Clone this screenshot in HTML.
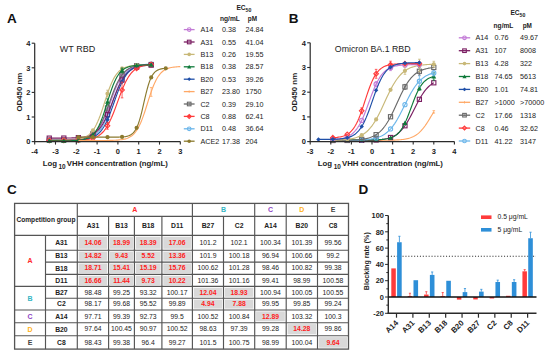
<!DOCTYPE html><html><head><meta charset="utf-8"><style>html,body{margin:0;padding:0;background:#fff;width:550px;height:355px;overflow:hidden}svg{display:block}text{font-family:"Liberation Sans",sans-serif}</style></head><body><svg width="550" height="355" viewBox="0 0 550 355" font-family="Liberation Sans, sans-serif">
<rect width="550" height="355" fill="#fff"/>
<text x="7.00" y="22.80" font-size="13.5" font-weight="bold" text-anchor="start" fill="#111" >A</text>
<text x="288.80" y="23.00" font-size="13.5" font-weight="bold" text-anchor="start" fill="#111" >B</text>
<text x="7.00" y="193.60" font-size="13.5" font-weight="bold" text-anchor="start" fill="#111" >C</text>
<text x="358.50" y="193.60" font-size="13.5" font-weight="bold" text-anchor="start" fill="#111" >D</text>
<polyline points="49.26,140.49 50.53,140.48 51.81,140.48 53.08,140.48 54.36,140.48 55.63,140.48 56.90,140.47 58.18,140.47 59.45,140.46 60.73,140.46 62.00,140.45 63.27,140.44 64.55,140.43 65.82,140.41 67.10,140.40 68.37,140.38 69.64,140.35 70.92,140.33 72.19,140.29 73.47,140.25 74.74,140.20 76.01,140.14 77.29,140.07 78.56,139.98 79.84,139.87 81.11,139.75 82.38,139.59 83.66,139.41 84.93,139.19 86.21,138.93 87.48,138.61 88.75,138.24 90.03,137.79 91.30,137.25 92.58,136.62 93.85,135.87 95.12,134.98 96.40,133.94 97.67,132.72 98.95,131.31 100.22,129.69 101.49,127.83 102.77,125.72 104.04,123.35 105.32,120.72 106.59,117.85 107.86,114.75 109.14,111.45 110.41,108.00 111.69,104.45 112.96,100.86 114.23,97.29 115.51,93.81 116.78,90.47 118.06,87.31 119.33,84.37 120.60,81.68 121.88,79.24 123.15,77.07 124.43,75.14 125.70,73.45 126.97,71.99 128.25,70.72 129.52,69.64 130.80,68.71 132.07,67.93 133.34,67.26 134.62,66.70 135.89,66.23 137.17,65.84 138.44,65.51 139.71,65.23 140.99,65.00 142.26,64.81 143.54,64.65 144.81,64.52 146.08,64.41 147.36,64.31 148.63,64.24 149.91,64.17 151.18,64.12" fill="none" stroke="#6cb6ea" stroke-width="1.15"/>
<circle cx="49.26" cy="140.49" r="2.09" fill="none" stroke="#6cb6ea" stroke-width="1.1"/>
<circle cx="63.82" cy="140.43" r="2.09" fill="none" stroke="#6cb6ea" stroke-width="1.1"/>
<circle cx="78.38" cy="139.99" r="2.09" fill="none" stroke="#6cb6ea" stroke-width="1.1"/>
<circle cx="92.94" cy="136.42" r="2.09" fill="none" stroke="#6cb6ea" stroke-width="1.1"/>
<line x1="107.50" y1="118.12" x2="107.50" y2="113.20" stroke="#6cb6ea" stroke-width="0.8" />
<line x1="106.20" y1="113.20" x2="108.80" y2="113.20" stroke="#6cb6ea" stroke-width="0.8" />
<line x1="106.20" y1="118.12" x2="108.80" y2="118.12" stroke="#6cb6ea" stroke-width="0.8" />
<circle cx="107.50" cy="115.66" r="2.09" fill="none" stroke="#6cb6ea" stroke-width="1.1"/>
<circle cx="122.06" cy="78.92" r="2.09" fill="none" stroke="#6cb6ea" stroke-width="1.1"/>
<circle cx="136.62" cy="66.00" r="2.09" fill="none" stroke="#6cb6ea" stroke-width="1.1"/>
<circle cx="151.18" cy="64.12" r="2.09" fill="none" stroke="#6cb6ea" stroke-width="1.1"/>
<polyline points="49.26,140.21 50.53,140.21 51.81,140.21 53.08,140.21 54.36,140.20 55.63,140.20 56.90,140.19 58.18,140.19 59.45,140.18 60.73,140.17 62.00,140.16 63.27,140.15 64.55,140.13 65.82,140.12 67.10,140.09 68.37,140.07 69.64,140.04 70.92,140.00 72.19,139.95 73.47,139.89 74.74,139.83 76.01,139.75 77.29,139.65 78.56,139.53 79.84,139.39 81.11,139.22 82.38,139.02 83.66,138.77 84.93,138.48 86.21,138.13 87.48,137.72 88.75,137.22 90.03,136.63 91.30,135.93 92.58,135.10 93.85,134.13 95.12,132.99 96.40,131.67 97.67,130.14 98.95,128.39 100.22,126.39 101.49,124.14 102.77,121.63 104.04,118.88 105.32,115.89 106.59,112.69 107.86,109.32 109.14,105.84 110.41,102.29 111.69,98.74 112.96,95.26 114.23,91.89 115.51,88.69 116.78,85.70 118.06,82.94 119.33,80.44 120.60,78.19 121.88,76.19 123.15,74.44 124.43,72.91 125.70,71.58 126.97,70.45 128.25,69.48 129.52,68.65 130.80,67.95 132.07,67.36 133.34,66.86 134.62,66.45 135.89,66.10 137.17,65.80 138.44,65.56 139.71,65.36 140.99,65.19 142.26,65.05 143.54,64.93 144.81,64.83 146.08,64.75 147.36,64.68 148.63,64.63 149.91,64.58 151.18,64.54" fill="none" stroke="#c27ad6" stroke-width="1.15"/>
<circle cx="49.26" cy="140.21" r="2.09" fill="none" stroke="#c27ad6" stroke-width="1.1"/>
<circle cx="63.82" cy="140.14" r="2.09" fill="none" stroke="#c27ad6" stroke-width="1.1"/>
<circle cx="78.38" cy="139.55" r="2.09" fill="none" stroke="#c27ad6" stroke-width="1.1"/>
<circle cx="92.94" cy="134.84" r="2.09" fill="none" stroke="#c27ad6" stroke-width="1.1"/>
<line x1="107.50" y1="112.76" x2="107.50" y2="107.84" stroke="#c27ad6" stroke-width="0.8" />
<line x1="106.20" y1="107.84" x2="108.80" y2="107.84" stroke="#c27ad6" stroke-width="0.8" />
<line x1="106.20" y1="112.76" x2="108.80" y2="112.76" stroke="#c27ad6" stroke-width="0.8" />
<circle cx="107.50" cy="110.30" r="2.09" fill="none" stroke="#c27ad6" stroke-width="1.1"/>
<circle cx="122.06" cy="75.93" r="2.09" fill="none" stroke="#c27ad6" stroke-width="1.1"/>
<circle cx="136.62" cy="65.92" r="2.09" fill="none" stroke="#c27ad6" stroke-width="1.1"/>
<circle cx="151.18" cy="64.54" r="2.09" fill="none" stroke="#c27ad6" stroke-width="1.1"/>
<polyline points="49.26,140.11 50.53,140.11 51.81,140.11 53.08,140.11 54.36,140.10 55.63,140.10 56.90,140.09 58.18,140.08 59.45,140.08 60.73,140.07 62.00,140.06 63.27,140.04 64.55,140.02 65.82,140.00 67.10,139.98 68.37,139.95 69.64,139.91 70.92,139.87 72.19,139.82 73.47,139.75 74.74,139.68 76.01,139.59 77.29,139.48 78.56,139.34 79.84,139.19 81.11,139.00 82.38,138.77 83.66,138.49 84.93,138.16 86.21,137.77 87.48,137.31 88.75,136.75 90.03,136.09 91.30,135.31 92.58,134.40 93.85,133.32 95.12,132.06 96.40,130.61 97.67,128.94 98.95,127.03 100.22,124.87 101.49,122.46 102.77,119.79 104.04,116.88 105.32,113.76 106.59,110.45 107.86,107.00 109.14,103.47 110.41,99.92 111.69,96.41 112.96,93.00 114.23,89.75 115.51,86.68 116.78,83.85 118.06,81.26 119.33,78.92 120.60,76.84 121.88,75.01 123.15,73.40 124.43,72.01 125.70,70.81 126.97,69.79 128.25,68.91 129.52,68.17 130.80,67.55 132.07,67.02 133.34,66.58 134.62,66.21 135.89,65.90 137.17,65.64 138.44,65.42 139.71,65.24 140.99,65.09 142.26,64.97 143.54,64.86 144.81,64.78 146.08,64.71 147.36,64.65 148.63,64.60 149.91,64.56 151.18,64.52" fill="none" stroke="#6a6a6a" stroke-width="1.15"/>
<rect x="47.17" y="138.02" width="4.18" height="4.18" fill="none" stroke="#6a6a6a" stroke-width="1.1"/>
<circle cx="49.26" cy="140.11" r="0.77" fill="#6a6a6a"/>
<rect x="61.73" y="137.94" width="4.18" height="4.18" fill="none" stroke="#6a6a6a" stroke-width="1.1"/>
<circle cx="63.82" cy="140.03" r="0.77" fill="#6a6a6a"/>
<rect x="76.29" y="137.28" width="4.18" height="4.18" fill="none" stroke="#6a6a6a" stroke-width="1.1"/>
<circle cx="78.38" cy="139.37" r="0.77" fill="#6a6a6a"/>
<rect x="90.85" y="132.01" width="4.18" height="4.18" fill="none" stroke="#6a6a6a" stroke-width="1.1"/>
<circle cx="92.94" cy="134.10" r="0.77" fill="#6a6a6a"/>
<rect x="105.41" y="105.91" width="4.18" height="4.18" fill="none" stroke="#6a6a6a" stroke-width="1.1"/>
<circle cx="107.50" cy="108.00" r="0.77" fill="#6a6a6a"/>
<rect x="119.97" y="72.67" width="4.18" height="4.18" fill="none" stroke="#6a6a6a" stroke-width="1.1"/>
<circle cx="122.06" cy="74.76" r="0.77" fill="#6a6a6a"/>
<rect x="134.53" y="63.65" width="4.18" height="4.18" fill="none" stroke="#6a6a6a" stroke-width="1.1"/>
<circle cx="136.62" cy="65.74" r="0.77" fill="#6a6a6a"/>
<rect x="149.09" y="62.43" width="4.18" height="4.18" fill="none" stroke="#6a6a6a" stroke-width="1.1"/>
<circle cx="151.18" cy="64.52" r="0.77" fill="#6a6a6a"/>
<polyline points="49.26,138.15 50.53,138.15 51.81,138.14 53.08,138.14 54.36,138.14 55.63,138.14 56.90,138.13 58.18,138.13 59.45,138.12 60.73,138.11 62.00,138.11 63.27,138.10 64.55,138.08 65.82,138.07 67.10,138.05 68.37,138.03 69.64,138.01 70.92,137.98 72.19,137.94 73.47,137.90 74.74,137.85 76.01,137.78 77.29,137.71 78.56,137.62 79.84,137.51 81.11,137.39 82.38,137.23 83.66,137.05 84.93,136.83 86.21,136.57 87.48,136.26 88.75,135.89 90.03,135.45 91.30,134.93 92.58,134.32 93.85,133.59 95.12,132.74 96.40,131.75 97.67,130.59 98.95,129.26 100.22,127.72 101.49,125.97 102.77,123.99 104.04,121.78 105.32,119.33 106.59,116.65 107.86,113.77 109.14,110.70 110.41,107.48 111.69,104.17 112.96,100.82 114.23,97.47 115.51,94.20 116.78,91.04 118.06,88.04 119.33,85.23 120.60,82.65 121.88,80.29 123.15,78.18 124.43,76.29 125.70,74.63 126.97,73.18 128.25,71.92 129.52,70.83 130.80,69.90 132.07,69.10 133.34,68.42 134.62,67.85 135.89,67.36 137.17,66.95 138.44,66.61 139.71,66.32 140.99,66.08 142.26,65.87 143.54,65.70 144.81,65.56 146.08,65.44 147.36,65.34 148.63,65.26 149.91,65.19 151.18,65.14" fill="none" stroke="#7b1f63" stroke-width="1.15"/>
<rect x="47.17" y="136.06" width="4.18" height="4.18" fill="none" stroke="#7b1f63" stroke-width="1.1"/>
<rect x="61.73" y="136.00" width="4.18" height="4.18" fill="none" stroke="#7b1f63" stroke-width="1.1"/>
<rect x="76.29" y="135.54" width="4.18" height="4.18" fill="none" stroke="#7b1f63" stroke-width="1.1"/>
<rect x="90.85" y="132.03" width="4.18" height="4.18" fill="none" stroke="#7b1f63" stroke-width="1.1"/>
<line x1="107.50" y1="117.07" x2="107.50" y2="112.15" stroke="#7b1f63" stroke-width="0.8" />
<line x1="106.20" y1="112.15" x2="108.80" y2="112.15" stroke="#7b1f63" stroke-width="0.8" />
<line x1="106.20" y1="117.07" x2="108.80" y2="117.07" stroke="#7b1f63" stroke-width="0.8" />
<rect x="105.41" y="112.52" width="4.18" height="4.18" fill="none" stroke="#7b1f63" stroke-width="1.1"/>
<rect x="119.97" y="77.89" width="4.18" height="4.18" fill="none" stroke="#7b1f63" stroke-width="1.1"/>
<rect x="134.53" y="65.03" width="4.18" height="4.18" fill="none" stroke="#7b1f63" stroke-width="1.1"/>
<rect x="149.09" y="63.05" width="4.18" height="4.18" fill="none" stroke="#7b1f63" stroke-width="1.1"/>
<polyline points="49.26,139.97 50.53,139.97 51.81,139.96 53.08,139.96 54.36,139.96 55.63,139.95 56.90,139.95 58.18,139.94 59.45,139.93 60.73,139.92 62.00,139.91 63.27,139.89 64.55,139.87 65.82,139.85 67.10,139.82 68.37,139.79 69.64,139.74 70.92,139.69 72.19,139.62 73.47,139.54 74.74,139.43 76.01,139.31 77.29,139.15 78.56,138.97 79.84,138.73 81.11,138.45 82.38,138.10 83.66,137.67 84.93,137.16 86.21,136.53 87.48,135.76 88.75,134.85 90.03,133.75 91.30,132.44 92.58,130.89 93.85,129.07 95.12,126.96 96.40,124.55 97.67,121.81 98.95,118.76 100.22,115.43 101.49,111.84 102.77,108.06 104.04,104.16 105.32,100.22 106.59,96.34 107.86,92.58 109.14,89.03 110.41,85.73 111.69,82.73 112.96,80.04 114.23,77.66 115.51,75.60 116.78,73.82 118.06,72.31 119.33,71.03 120.60,69.96 121.88,69.07 123.15,68.32 124.43,67.71 125.70,67.21 126.97,66.79 128.25,66.46 129.52,66.18 130.80,65.95 132.07,65.77 133.34,65.62 134.62,65.50 135.89,65.40 137.17,65.32 138.44,65.25 139.71,65.20 140.99,65.16 142.26,65.12 143.54,65.09 144.81,65.07 146.08,65.05 147.36,65.04 148.63,65.02 149.91,65.01 151.18,65.01" fill="none" stroke="#c8b878" stroke-width="1.15"/>
<circle cx="49.26" cy="139.97" r="2.09" fill="#c8b878"/>
<circle cx="63.82" cy="139.89" r="2.09" fill="#c8b878"/>
<circle cx="78.38" cy="138.99" r="2.09" fill="#c8b878"/>
<circle cx="92.94" cy="130.40" r="2.09" fill="#c8b878"/>
<line x1="107.50" y1="97.08" x2="107.50" y2="90.19" stroke="#c8b878" stroke-width="0.8" />
<line x1="106.20" y1="90.19" x2="108.80" y2="90.19" stroke="#c8b878" stroke-width="0.8" />
<line x1="106.20" y1="97.08" x2="108.80" y2="97.08" stroke="#c8b878" stroke-width="0.8" />
<circle cx="107.50" cy="93.64" r="2.09" fill="#c8b878"/>
<line x1="122.06" y1="70.92" x2="122.06" y2="66.98" stroke="#c8b878" stroke-width="0.8" />
<line x1="120.76" y1="66.98" x2="123.36" y2="66.98" stroke="#c8b878" stroke-width="0.8" />
<line x1="120.76" y1="70.92" x2="123.36" y2="70.92" stroke="#c8b878" stroke-width="0.8" />
<circle cx="122.06" cy="68.95" r="2.09" fill="#c8b878"/>
<circle cx="136.62" cy="65.35" r="2.09" fill="#c8b878"/>
<circle cx="151.18" cy="65.01" r="2.09" fill="#c8b878"/>
<polyline points="49.26,140.29 50.53,140.29 51.81,140.29 53.08,140.29 54.36,140.29 55.63,140.28 56.90,140.28 58.18,140.28 59.45,140.27 60.73,140.27 62.00,140.26 63.27,140.26 64.55,140.25 65.82,140.24 67.10,140.23 68.37,140.21 69.64,140.20 70.92,140.18 72.19,140.15 73.47,140.12 74.74,140.09 76.01,140.04 77.29,139.99 78.56,139.93 79.84,139.85 81.11,139.75 82.38,139.64 83.66,139.51 84.93,139.34 86.21,139.14 87.48,138.91 88.75,138.62 90.03,138.28 91.30,137.87 92.58,137.38 93.85,136.80 95.12,136.11 96.40,135.29 97.67,134.32 98.95,133.18 100.22,131.86 101.49,130.32 102.77,128.55 104.04,126.53 105.32,124.25 106.59,121.70 107.86,118.90 109.14,115.85 110.41,112.59 111.69,109.16 112.96,105.60 114.23,101.98 115.51,98.37 116.78,94.82 118.06,91.41 119.33,88.17 120.60,85.15 121.88,82.38 123.15,79.86 124.43,77.62 125.70,75.63 126.97,73.89 128.25,72.38 129.52,71.08 130.80,69.96 132.07,69.01 133.34,68.21 134.62,67.53 135.89,66.96 137.17,66.48 138.44,66.08 139.71,65.75 140.99,65.47 142.26,65.24 143.54,65.04 144.81,64.88 146.08,64.75 147.36,64.64 148.63,64.55 149.91,64.47 151.18,64.41" fill="none" stroke="#1f4fa8" stroke-width="1.15"/>
<polygon points="49.26,138.09 51.46,140.29 49.26,142.49 47.06,140.29" fill="#1f4fa8"/>
<polygon points="63.82,138.06 66.02,140.26 63.82,142.46 61.62,140.26" fill="#1f4fa8"/>
<polygon points="78.38,137.73 80.58,139.93 78.38,142.13 76.18,139.93" fill="#1f4fa8"/>
<polygon points="92.94,135.03 95.14,137.23 92.94,139.43 90.74,137.23" fill="#1f4fa8"/>
<line x1="107.50" y1="122.68" x2="107.50" y2="116.78" stroke="#1f4fa8" stroke-width="0.8" />
<line x1="106.20" y1="116.78" x2="108.80" y2="116.78" stroke="#1f4fa8" stroke-width="0.8" />
<line x1="106.20" y1="122.68" x2="108.80" y2="122.68" stroke="#1f4fa8" stroke-width="0.8" />
<polygon points="107.50,117.53 109.70,119.73 107.50,121.93 105.30,119.73" fill="#1f4fa8"/>
<polygon points="122.06,79.80 124.26,82.00 122.06,84.20 119.86,82.00" fill="#1f4fa8"/>
<polygon points="136.62,64.47 138.82,66.67 136.62,68.87 134.42,66.67" fill="#1f4fa8"/>
<polygon points="151.18,62.21 153.38,64.41 151.18,66.61 148.98,64.41" fill="#1f4fa8"/>
<polyline points="49.26,140.46 50.53,140.46 51.81,140.46 53.08,140.46 54.36,140.46 55.63,140.46 56.90,140.46 58.18,140.45 59.45,140.45 60.73,140.45 62.00,140.44 63.27,140.44 64.55,140.43 65.82,140.42 67.10,140.41 68.37,140.40 69.64,140.39 70.92,140.37 72.19,140.36 73.47,140.33 74.74,140.31 76.01,140.27 77.29,140.23 78.56,140.19 79.84,140.13 81.11,140.06 82.38,139.98 83.66,139.88 84.93,139.77 86.21,139.63 87.48,139.46 88.75,139.26 90.03,139.02 91.30,138.74 92.58,138.40 93.85,138.00 95.12,137.52 96.40,136.95 97.67,136.28 98.95,135.50 100.22,134.57 101.49,133.50 102.77,132.24 104.04,130.80 105.32,129.14 106.59,127.25 107.86,125.12 109.14,122.75 110.41,120.13 111.69,117.28 112.96,114.21 114.23,110.96 115.51,107.58 116.78,104.10 118.06,100.59 119.33,97.11 120.60,93.71 121.88,90.44 123.15,87.36 124.43,84.48 125.70,81.84 126.97,79.44 128.25,77.29 129.52,75.38 130.80,73.70 132.07,72.23 133.34,70.96 134.62,69.86 135.89,68.92 137.17,68.12 138.44,67.44 139.71,66.87 140.99,66.38 142.26,65.97 143.54,65.63 144.81,65.34 146.08,65.09 147.36,64.89 148.63,64.72 149.91,64.58 151.18,64.46" fill="none" stroke="#ff3b3b" stroke-width="1.15"/>
<polygon points="49.26,138.15 51.57,140.46 49.26,142.77 46.95,140.46" fill="none" stroke="#ff3b3b" stroke-width="1.1"/>
<polygon points="63.82,138.12 66.13,140.43 63.82,142.74 61.51,140.43" fill="none" stroke="#ff3b3b" stroke-width="1.1"/>
<polygon points="78.38,137.88 80.69,140.19 78.38,142.50 76.07,140.19" fill="none" stroke="#ff3b3b" stroke-width="1.1"/>
<polygon points="92.94,135.98 95.25,138.29 92.94,140.60 90.63,138.29" fill="none" stroke="#ff3b3b" stroke-width="1.1"/>
<line x1="107.50" y1="129.20" x2="107.50" y2="122.31" stroke="#ff3b3b" stroke-width="0.8" />
<line x1="106.20" y1="122.31" x2="108.80" y2="122.31" stroke="#ff3b3b" stroke-width="0.8" />
<line x1="106.20" y1="129.20" x2="108.80" y2="129.20" stroke="#ff3b3b" stroke-width="0.8" />
<polygon points="107.50,123.45 109.81,125.76 107.50,128.07 105.19,125.76" fill="none" stroke="#ff3b3b" stroke-width="1.1"/>
<line x1="122.06" y1="97.86" x2="122.06" y2="82.12" stroke="#ff3b3b" stroke-width="0.8" />
<line x1="120.76" y1="82.12" x2="123.36" y2="82.12" stroke="#ff3b3b" stroke-width="0.8" />
<line x1="120.76" y1="97.86" x2="123.36" y2="97.86" stroke="#ff3b3b" stroke-width="0.8" />
<polygon points="122.06,87.68 124.37,89.99 122.06,92.30 119.75,89.99" fill="none" stroke="#ff3b3b" stroke-width="1.1"/>
<polygon points="136.62,66.14 138.93,68.45 136.62,70.76 134.31,68.45" fill="none" stroke="#ff3b3b" stroke-width="1.1"/>
<polygon points="151.18,62.15 153.49,64.46 151.18,66.77 148.87,64.46" fill="none" stroke="#ff3b3b" stroke-width="1.1"/>
<polyline points="49.26,140.86 50.53,140.86 51.81,140.86 53.08,140.85 54.36,140.85 55.63,140.85 56.90,140.85 58.18,140.84 59.45,140.84 60.73,140.83 62.00,140.83 63.27,140.82 64.55,140.81 65.82,140.79 67.10,140.78 68.37,140.76 69.64,140.73 70.92,140.70 72.19,140.66 73.47,140.61 74.74,140.55 76.01,140.48 77.29,140.38 78.56,140.27 79.84,140.13 81.11,139.95 82.38,139.74 83.66,139.47 84.93,139.14 86.21,138.74 87.48,138.25 88.75,137.64 90.03,136.91 91.30,136.02 92.58,134.94 93.85,133.65 95.12,132.11 96.40,130.30 97.67,128.18 98.95,125.73 100.22,122.95 101.49,119.83 102.77,116.39 104.04,112.69 105.32,108.77 106.59,104.71 107.86,100.61 109.14,96.57 110.41,92.67 111.69,88.98 112.96,85.57 114.23,82.48 115.51,79.73 116.78,77.32 118.06,75.23 119.33,73.44 120.60,71.93 121.88,70.66 123.15,69.60 124.43,68.73 125.70,68.00 126.97,67.41 128.25,66.93 129.52,66.53 130.80,66.21 132.07,65.95 133.34,65.74 134.62,65.57 135.89,65.43 137.17,65.32 138.44,65.23 139.71,65.15 140.99,65.09 142.26,65.05 143.54,65.01 144.81,64.98 146.08,64.95 147.36,64.93 148.63,64.92 149.91,64.90 151.18,64.89" fill="none" stroke="#0f7a3a" stroke-width="1.15"/>
<polygon points="49.26,138.44 51.68,142.79 46.84,142.79" fill="#0f7a3a"/>
<polygon points="63.82,138.39 66.24,142.75 61.40,142.75" fill="#0f7a3a"/>
<polygon points="78.38,137.87 80.80,142.22 75.96,142.22" fill="#0f7a3a"/>
<polygon points="92.94,132.18 95.36,136.53 90.52,136.53" fill="#0f7a3a"/>
<line x1="107.50" y1="104.74" x2="107.50" y2="98.83" stroke="#0f7a3a" stroke-width="0.8" />
<line x1="106.20" y1="98.83" x2="108.80" y2="98.83" stroke="#0f7a3a" stroke-width="0.8" />
<line x1="106.20" y1="104.74" x2="108.80" y2="104.74" stroke="#0f7a3a" stroke-width="0.8" />
<polygon points="107.50,99.36 109.92,103.72 105.08,103.72" fill="#0f7a3a"/>
<line x1="122.06" y1="72.96" x2="122.06" y2="68.04" stroke="#0f7a3a" stroke-width="0.8" />
<line x1="120.76" y1="68.04" x2="123.36" y2="68.04" stroke="#0f7a3a" stroke-width="0.8" />
<line x1="120.76" y1="72.96" x2="123.36" y2="72.96" stroke="#0f7a3a" stroke-width="0.8" />
<polygon points="122.06,68.08 124.48,72.43 119.64,72.43" fill="#0f7a3a"/>
<polygon points="136.62,62.94 139.04,67.30 134.20,67.30" fill="#0f7a3a"/>
<polygon points="151.18,62.47 153.60,66.83 148.76,66.83" fill="#0f7a3a"/>
<polyline points="78.38,140.52 79.65,140.52 80.93,140.52 82.20,140.52 83.48,140.52 84.75,140.52 86.02,140.52 87.30,140.52 88.57,140.51 89.85,140.51 91.12,140.51 92.39,140.51 93.67,140.51 94.94,140.51 96.22,140.51 97.49,140.50 98.76,140.50 100.04,140.50 101.31,140.49 102.59,140.48 103.86,140.48 105.13,140.47 106.41,140.45 107.68,140.44 108.96,140.42 110.23,140.39 111.50,140.36 112.78,140.32 114.05,140.28 115.33,140.22 116.60,140.15 117.87,140.06 119.15,139.94 120.42,139.80 121.70,139.63 122.97,139.42 124.24,139.16 125.52,138.83 126.79,138.43 128.07,137.94 129.34,137.33 130.61,136.60 131.89,135.70 133.16,134.62 134.44,133.32 135.71,131.77 136.98,129.93 138.26,127.79 139.53,125.32 140.81,122.51 142.08,119.36 143.35,115.91 144.63,112.19 145.90,108.28 147.18,104.25 148.45,100.20 149.72,96.23 151.00,92.42 152.27,88.86 153.55,85.58 154.82,82.63 156.09,80.02 157.37,77.74 158.64,75.79 159.92,74.12 161.19,72.72 162.46,71.56 163.74,70.59 165.01,69.79 166.29,69.14 167.56,68.60 168.83,68.16 170.11,67.81 171.38,67.52 172.66,67.29 173.93,67.10 175.20,66.95 176.48,66.83 177.75,66.73 179.03,66.65 180.30,66.59" fill="none" stroke="#ffa866" stroke-width="1.15"/>
<line x1="151.18" y1="96.33" x2="151.18" y2="87.47" stroke="#ffa866" stroke-width="0.8" />
<line x1="149.88" y1="87.47" x2="152.48" y2="87.47" stroke="#ffa866" stroke-width="0.8" />
<line x1="149.88" y1="96.33" x2="152.48" y2="96.33" stroke="#ffa866" stroke-width="0.8" />
<polyline points="78.38,137.17 79.47,137.17 80.56,137.17 81.66,137.17 82.75,137.17 83.84,137.17 84.93,137.17 86.02,137.17 87.12,137.17 88.21,137.17 89.30,137.17 90.39,137.17 91.48,137.17 92.58,137.17 93.67,137.17 94.76,137.17 95.85,137.17 96.94,137.17 98.04,137.17 99.13,137.17 100.22,137.17 101.31,137.17 102.40,137.17 103.50,137.17 104.59,137.17 105.68,137.17 106.77,137.17 107.86,137.16 108.96,137.16 110.05,137.16 111.14,137.16 112.23,137.15 113.32,137.14 114.42,137.13 115.51,137.12 116.60,137.11 117.69,137.09 118.78,137.06 119.88,137.02 120.97,136.97 122.06,136.91 123.15,136.82 124.24,136.71 125.34,136.57 126.43,136.38 127.52,136.13 128.61,135.80 129.70,135.37 130.80,134.81 131.89,134.09 132.98,133.16 134.07,131.97 135.16,130.46 136.26,128.57 137.35,126.25 138.44,123.45 139.53,120.13 140.62,116.32 141.72,112.06 142.81,107.47 143.90,102.70 144.99,97.92 146.08,93.32 147.18,89.05 148.27,85.22 149.36,81.89 150.45,79.06 151.54,76.72 152.64,74.82 153.73,73.30 154.82,72.10 155.91,71.16 157.00,70.43 158.10,69.87 159.19,69.43 160.28,69.10 161.37,68.85 162.46,68.66 163.56,68.51 164.65,68.40 165.74,68.31" fill="none" stroke="#8b7a2e" stroke-width="1.15"/>
<circle cx="78.38" cy="137.17" r="2.09" fill="#8b7a2e"/>
<circle cx="92.94" cy="137.17" r="2.09" fill="#8b7a2e"/>
<circle cx="107.50" cy="137.17" r="2.09" fill="#8b7a2e"/>
<circle cx="122.06" cy="136.91" r="2.09" fill="#8b7a2e"/>
<circle cx="136.62" cy="127.85" r="2.09" fill="#8b7a2e"/>
<circle cx="151.18" cy="77.45" r="2.09" fill="#8b7a2e"/>
<circle cx="165.74" cy="68.31" r="2.09" fill="#8b7a2e"/>
<line x1="34.70" y1="142.10" x2="34.70" y2="43.20" stroke="#2a2a2a" stroke-width="1.2" />
<line x1="31.70" y1="141.60" x2="34.70" y2="141.60" stroke="#2a2a2a" stroke-width="1.1" />
<text x="30.50" y="144.30" font-size="7.5" font-weight="bold" text-anchor="end" fill="#222" >0</text>
<line x1="31.70" y1="117.00" x2="34.70" y2="117.00" stroke="#2a2a2a" stroke-width="1.1" />
<text x="30.50" y="119.70" font-size="7.5" font-weight="bold" text-anchor="end" fill="#222" >1</text>
<line x1="31.70" y1="92.40" x2="34.70" y2="92.40" stroke="#2a2a2a" stroke-width="1.1" />
<text x="30.50" y="95.10" font-size="7.5" font-weight="bold" text-anchor="end" fill="#222" >2</text>
<line x1="31.70" y1="67.80" x2="34.70" y2="67.80" stroke="#2a2a2a" stroke-width="1.1" />
<text x="30.50" y="70.50" font-size="7.5" font-weight="bold" text-anchor="end" fill="#222" >3</text>
<line x1="31.70" y1="43.20" x2="34.70" y2="43.20" stroke="#2a2a2a" stroke-width="1.1" />
<text x="30.50" y="45.90" font-size="7.5" font-weight="bold" text-anchor="end" fill="#222" >4</text>
<line x1="34.10" y1="141.60" x2="180.30" y2="141.60" stroke="#2a2a2a" stroke-width="1.2" />
<line x1="34.70" y1="141.60" x2="34.70" y2="144.60" stroke="#2a2a2a" stroke-width="1.1" />
<text x="34.70" y="154.20" font-size="7.5" font-weight="bold" text-anchor="middle" fill="#222" >-4</text>
<line x1="55.50" y1="141.60" x2="55.50" y2="144.60" stroke="#2a2a2a" stroke-width="1.1" />
<text x="55.50" y="154.20" font-size="7.5" font-weight="bold" text-anchor="middle" fill="#222" >-3</text>
<line x1="76.30" y1="141.60" x2="76.30" y2="144.60" stroke="#2a2a2a" stroke-width="1.1" />
<text x="76.30" y="154.20" font-size="7.5" font-weight="bold" text-anchor="middle" fill="#222" >-2</text>
<line x1="97.10" y1="141.60" x2="97.10" y2="144.60" stroke="#2a2a2a" stroke-width="1.1" />
<text x="97.10" y="154.20" font-size="7.5" font-weight="bold" text-anchor="middle" fill="#222" >-1</text>
<line x1="117.90" y1="141.60" x2="117.90" y2="144.60" stroke="#2a2a2a" stroke-width="1.1" />
<text x="117.90" y="154.20" font-size="7.5" font-weight="bold" text-anchor="middle" fill="#222" >0</text>
<line x1="138.70" y1="141.60" x2="138.70" y2="144.60" stroke="#2a2a2a" stroke-width="1.1" />
<text x="138.70" y="154.20" font-size="7.5" font-weight="bold" text-anchor="middle" fill="#222" >1</text>
<line x1="159.50" y1="141.60" x2="159.50" y2="144.60" stroke="#2a2a2a" stroke-width="1.1" />
<text x="159.50" y="154.20" font-size="7.5" font-weight="bold" text-anchor="middle" fill="#222" >2</text>
<line x1="180.30" y1="141.60" x2="180.30" y2="144.60" stroke="#2a2a2a" stroke-width="1.1" />
<text x="180.30" y="154.20" font-size="7.5" font-weight="bold" text-anchor="middle" fill="#222" >3</text>
<text x="59.80" y="52.20" font-size="9" font-weight="normal" text-anchor="start" fill="#222" >WT RBD</text>
<text x="19.4" y="92.2" transform="rotate(-90 19.4 92.2)" text-anchor="middle" dy="2.8" font-size="7.8" font-weight="bold" fill="#222">OD450 nm</text>
<text id="xlA" x="105.2" y="166.2" text-anchor="middle" font-size="7.8" font-weight="bold" fill="#222">Log<tspan font-size="6.4" dy="2.3" dx="1.6">10</tspan><tspan dy="-2.3" dx="1.2">VHH concentration (ng/mL)</tspan></text>
<text x="236.4" y="10.4" font-size="6.6" font-weight="bold" fill="#222">EC<tspan font-size="5.2" dy="1.3">50</tspan></text>
<text x="220.00" y="20.60" font-size="6.6" font-weight="bold" text-anchor="start" fill="#222" >ng/mL</text>
<text x="247.80" y="20.60" font-size="6.4" font-weight="bold" text-anchor="start" fill="#222" >pM</text>
<line x1="183.80" y1="29.60" x2="194.60" y2="29.60" stroke="#c27ad6" stroke-width="1.3" />
<circle cx="189.20" cy="29.60" r="1.80" fill="none" stroke="#c27ad6" stroke-width="1.1"/>
<text x="200.40" y="32.20" font-size="7.2" font-weight="normal" text-anchor="start" fill="#222" >A14</text>
<text x="222.00" y="32.20" font-size="7.2" font-weight="normal" text-anchor="start" fill="#222" >0.38</text>
<text x="245.60" y="32.20" font-size="7.2" font-weight="normal" text-anchor="start" fill="#222" >24.84</text>
<line x1="183.80" y1="42.00" x2="194.60" y2="42.00" stroke="#7b1f63" stroke-width="1.3" />
<rect x="187.39" y="40.20" width="3.61" height="3.61" fill="none" stroke="#7b1f63" stroke-width="1.1"/>
<text x="200.40" y="44.60" font-size="7.2" font-weight="normal" text-anchor="start" fill="#222" >A31</text>
<text x="222.00" y="44.60" font-size="7.2" font-weight="normal" text-anchor="start" fill="#222" >0.55</text>
<text x="245.60" y="44.60" font-size="7.2" font-weight="normal" text-anchor="start" fill="#222" >41.04</text>
<line x1="183.80" y1="54.40" x2="194.60" y2="54.40" stroke="#c8b878" stroke-width="1.3" />
<circle cx="189.20" cy="54.40" r="1.80" fill="#c8b878"/>
<text x="200.40" y="57.00" font-size="7.2" font-weight="normal" text-anchor="start" fill="#222" >B13</text>
<text x="222.00" y="57.00" font-size="7.2" font-weight="normal" text-anchor="start" fill="#222" >0.26</text>
<text x="245.60" y="57.00" font-size="7.2" font-weight="normal" text-anchor="start" fill="#222" >19.55</text>
<line x1="183.80" y1="66.80" x2="194.60" y2="66.80" stroke="#0f7a3a" stroke-width="1.3" />
<polygon points="189.20,64.71 191.29,68.47 187.11,68.47" fill="#0f7a3a"/>
<text x="200.40" y="69.40" font-size="7.2" font-weight="normal" text-anchor="start" fill="#222" >B18</text>
<text x="222.00" y="69.40" font-size="7.2" font-weight="normal" text-anchor="start" fill="#222" >0.38</text>
<text x="245.60" y="69.40" font-size="7.2" font-weight="normal" text-anchor="start" fill="#222" >28.57</text>
<line x1="183.80" y1="79.20" x2="194.60" y2="79.20" stroke="#1f4fa8" stroke-width="1.3" />
<polygon points="189.20,77.30 191.10,79.20 189.20,81.10 187.30,79.20" fill="#1f4fa8"/>
<text x="200.40" y="81.80" font-size="7.2" font-weight="normal" text-anchor="start" fill="#222" >B20</text>
<text x="222.00" y="81.80" font-size="7.2" font-weight="normal" text-anchor="start" fill="#222" >0.53</text>
<text x="245.60" y="81.80" font-size="7.2" font-weight="normal" text-anchor="start" fill="#222" >39.26</text>
<line x1="183.80" y1="91.60" x2="194.60" y2="91.60" stroke="#ffa866" stroke-width="1.3" />
<line x1="189.20" y1="90.40" x2="189.20" y2="92.80" stroke="#ffa866" stroke-width="0.8" />
<text x="200.40" y="94.20" font-size="7.2" font-weight="normal" text-anchor="start" fill="#222" >B27</text>
<text x="222.00" y="94.20" font-size="7.2" font-weight="normal" text-anchor="start" fill="#222" >23.80</text>
<text x="245.60" y="94.20" font-size="7.2" font-weight="normal" text-anchor="start" fill="#222" >1750</text>
<line x1="183.80" y1="104.00" x2="194.60" y2="104.00" stroke="#6a6a6a" stroke-width="1.3" />
<rect x="187.39" y="102.19" width="3.61" height="3.61" fill="none" stroke="#6a6a6a" stroke-width="1.1"/>
<circle cx="189.20" cy="104.00" r="0.66" fill="#6a6a6a"/>
<text x="200.40" y="106.60" font-size="7.2" font-weight="normal" text-anchor="start" fill="#222" >C2</text>
<text x="222.00" y="106.60" font-size="7.2" font-weight="normal" text-anchor="start" fill="#222" >0.39</text>
<text x="245.60" y="106.60" font-size="7.2" font-weight="normal" text-anchor="start" fill="#222" >29.10</text>
<line x1="183.80" y1="116.40" x2="194.60" y2="116.40" stroke="#ff3b3b" stroke-width="1.3" />
<polygon points="189.20,114.41 191.19,116.40 189.20,118.40 187.20,116.40" fill="none" stroke="#ff3b3b" stroke-width="1.1"/>
<text x="200.40" y="119.00" font-size="7.2" font-weight="normal" text-anchor="start" fill="#222" >C8</text>
<text x="222.00" y="119.00" font-size="7.2" font-weight="normal" text-anchor="start" fill="#222" >0.88</text>
<text x="245.60" y="119.00" font-size="7.2" font-weight="normal" text-anchor="start" fill="#222" >62.41</text>
<line x1="183.80" y1="128.80" x2="194.60" y2="128.80" stroke="#6cb6ea" stroke-width="1.3" />
<circle cx="189.20" cy="128.80" r="1.80" fill="none" stroke="#6cb6ea" stroke-width="1.1"/>
<text x="200.40" y="131.40" font-size="7.2" font-weight="normal" text-anchor="start" fill="#222" >D11</text>
<text x="222.00" y="131.40" font-size="7.2" font-weight="normal" text-anchor="start" fill="#222" >0.48</text>
<text x="245.60" y="131.40" font-size="7.2" font-weight="normal" text-anchor="start" fill="#222" >36.64</text>
<line x1="183.80" y1="141.20" x2="194.60" y2="141.20" stroke="#8b7a2e" stroke-width="1.3" />
<circle cx="189.20" cy="141.20" r="1.80" fill="#8b7a2e"/>
<text x="200.40" y="143.80" font-size="7.2" font-weight="normal" text-anchor="start" fill="#222" >ACE2</text>
<text x="222.00" y="143.80" font-size="7.2" font-weight="normal" text-anchor="start" fill="#222" >17.38</text>
<text x="245.60" y="143.80" font-size="7.2" font-weight="normal" text-anchor="start" fill="#222" >204</text>
<polyline points="332.86,140.36 334.12,140.36 335.38,140.36 336.65,140.36 337.91,140.36 339.17,140.36 340.43,140.36 341.69,140.36 342.95,140.36 344.22,140.36 345.48,140.36 346.74,140.36 348.00,140.36 349.26,140.36 350.52,140.36 351.79,140.36 353.05,140.36 354.31,140.36 355.57,140.36 356.83,140.36 358.10,140.36 359.36,140.36 360.62,140.36 361.88,140.36 363.14,140.36 364.40,140.36 365.67,140.36 366.93,140.36 368.19,140.36 369.45,140.36 370.71,140.35 371.97,140.35 373.24,140.35 374.50,140.35 375.76,140.34 377.02,140.34 378.28,140.33 379.54,140.33 380.81,140.32 382.07,140.31 383.33,140.30 384.59,140.29 385.85,140.27 387.12,140.26 388.38,140.24 389.64,140.21 390.90,140.18 392.16,140.15 393.42,140.11 394.69,140.06 395.95,140.00 397.21,139.93 398.47,139.85 399.73,139.75 400.99,139.64 402.26,139.50 403.52,139.34 404.78,139.15 406.04,138.92 407.30,138.65 408.56,138.34 409.83,137.97 411.09,137.54 412.35,137.04 413.61,136.46 414.87,135.78 416.14,135.00 417.40,134.11 418.66,133.10 419.92,131.95 421.18,130.67 422.44,129.24 423.71,127.67 424.97,125.97 426.23,124.15 427.49,122.22 428.75,120.20 430.01,118.13 431.28,116.02 432.54,113.93 433.80,111.86" fill="none" stroke="#ffa866" stroke-width="1.15"/>
<line x1="433.80" y1="113.10" x2="433.80" y2="110.63" stroke="#ffa866" stroke-width="0.8" />
<line x1="432.50" y1="110.63" x2="435.10" y2="110.63" stroke="#ffa866" stroke-width="0.8" />
<line x1="432.50" y1="113.10" x2="435.10" y2="113.10" stroke="#ffa866" stroke-width="0.8" />
<polyline points="332.86,140.44 334.12,140.44 335.38,140.44 336.65,140.44 337.91,140.44 339.17,140.43 340.43,140.43 341.69,140.43 342.95,140.43 344.22,140.43 345.48,140.43 346.74,140.43 348.00,140.43 349.26,140.42 350.52,140.42 351.79,140.42 353.05,140.41 354.31,140.41 355.57,140.40 356.83,140.40 358.10,140.39 359.36,140.38 360.62,140.37 361.88,140.36 363.14,140.34 364.40,140.33 365.67,140.31 366.93,140.29 368.19,140.26 369.45,140.23 370.71,140.19 371.97,140.15 373.24,140.10 374.50,140.04 375.76,139.97 377.02,139.89 378.28,139.80 379.54,139.69 380.81,139.56 382.07,139.41 383.33,139.23 384.59,139.03 385.85,138.79 387.12,138.51 388.38,138.19 389.64,137.81 390.90,137.38 392.16,136.88 393.42,136.30 394.69,135.63 395.95,134.87 397.21,134.00 398.47,133.01 399.73,131.90 400.99,130.65 402.26,129.25 403.52,127.70 404.78,126.00 406.04,124.14 407.30,122.14 408.56,120.00 409.83,117.73 411.09,115.37 412.35,112.93 413.61,110.44 414.87,107.94 416.14,105.46 417.40,103.02 418.66,100.66 419.92,98.40 421.18,96.26 422.44,94.26 423.71,92.40 424.97,90.70 426.23,89.16 427.49,87.76 428.75,86.51 430.01,85.40 431.28,84.42 432.54,83.55 433.80,82.79" fill="none" stroke="#7b1f63" stroke-width="1.15"/>
<rect x="330.77" y="138.35" width="4.18" height="4.18" fill="none" stroke="#7b1f63" stroke-width="1.1"/>
<rect x="345.19" y="138.34" width="4.18" height="4.18" fill="none" stroke="#7b1f63" stroke-width="1.1"/>
<rect x="359.61" y="138.27" width="4.18" height="4.18" fill="none" stroke="#7b1f63" stroke-width="1.1"/>
<rect x="374.03" y="137.86" width="4.18" height="4.18" fill="none" stroke="#7b1f63" stroke-width="1.1"/>
<rect x="388.45" y="135.42" width="4.18" height="4.18" fill="none" stroke="#7b1f63" stroke-width="1.1"/>
<rect x="402.87" y="123.65" width="4.18" height="4.18" fill="none" stroke="#7b1f63" stroke-width="1.1"/>
<rect x="417.29" y="97.26" width="4.18" height="4.18" fill="none" stroke="#7b1f63" stroke-width="1.1"/>
<rect x="431.71" y="80.70" width="4.18" height="4.18" fill="none" stroke="#7b1f63" stroke-width="1.1"/>
<polyline points="332.86,139.92 334.12,139.92 335.38,139.92 336.65,139.92 337.91,139.92 339.17,139.92 340.43,139.92 341.69,139.92 342.95,139.92 344.22,139.92 345.48,139.92 346.74,139.92 348.00,139.92 349.26,139.92 350.52,139.92 351.79,139.92 353.05,139.92 354.31,139.92 355.57,139.91 356.83,139.91 358.10,139.91 359.36,139.91 360.62,139.91 361.88,139.90 363.14,139.90 364.40,139.89 365.67,139.89 366.93,139.88 368.19,139.87 369.45,139.86 370.71,139.85 371.97,139.83 373.24,139.81 374.50,139.78 375.76,139.75 377.02,139.71 378.28,139.66 379.54,139.60 380.81,139.52 382.07,139.43 383.33,139.31 384.59,139.17 385.85,139.00 387.12,138.78 388.38,138.52 389.64,138.20 390.90,137.81 392.16,137.33 393.42,136.75 394.69,136.05 395.95,135.21 397.21,134.20 398.47,133.01 399.73,131.59 400.99,129.93 402.26,128.02 403.52,125.83 404.78,123.37 406.04,120.63 407.30,117.66 408.56,114.48 409.83,111.16 411.09,107.75 412.35,104.34 413.61,101.00 414.87,97.80 416.14,94.79 417.40,92.02 418.66,89.52 419.92,87.29 421.18,85.33 422.44,83.64 423.71,82.19 424.97,80.96 426.23,79.93 427.49,79.06 428.75,78.34 430.01,77.75 431.28,77.26 432.54,76.86 433.80,76.53" fill="none" stroke="#0f7a3a" stroke-width="1.15"/>
<polygon points="332.86,137.50 335.28,141.86 330.44,141.86" fill="#0f7a3a"/>
<polygon points="347.28,137.50 349.70,141.85 344.86,141.85" fill="#0f7a3a"/>
<polygon points="361.70,137.48 364.12,141.84 359.28,141.84" fill="#0f7a3a"/>
<polygon points="376.12,137.32 378.54,141.67 373.70,141.67" fill="#0f7a3a"/>
<polygon points="390.54,135.51 392.96,139.86 388.12,139.86" fill="#0f7a3a"/>
<polygon points="404.96,120.57 407.38,124.93 402.54,124.93" fill="#0f7a3a"/>
<line x1="419.38" y1="90.19" x2="419.38" y2="86.23" stroke="#0f7a3a" stroke-width="0.8" />
<line x1="418.08" y1="86.23" x2="420.68" y2="86.23" stroke="#0f7a3a" stroke-width="0.8" />
<line x1="418.08" y1="90.19" x2="420.68" y2="90.19" stroke="#0f7a3a" stroke-width="0.8" />
<polygon points="419.38,85.79 421.80,90.15 416.96,90.15" fill="#0f7a3a"/>
<line x1="433.80" y1="80.23" x2="433.80" y2="72.82" stroke="#0f7a3a" stroke-width="0.8" />
<line x1="432.50" y1="72.82" x2="435.10" y2="72.82" stroke="#0f7a3a" stroke-width="0.8" />
<line x1="432.50" y1="80.23" x2="435.10" y2="80.23" stroke="#0f7a3a" stroke-width="0.8" />
<polygon points="433.80,74.11 436.22,78.46 431.38,78.46" fill="#0f7a3a"/>
<polyline points="332.86,140.45 334.12,140.44 335.38,140.44 336.65,140.44 337.91,140.43 339.17,140.43 340.43,140.42 341.69,140.42 342.95,140.41 344.22,140.40 345.48,140.39 346.74,140.38 348.00,140.37 349.26,140.35 350.52,140.33 351.79,140.31 353.05,140.29 354.31,140.26 355.57,140.23 356.83,140.19 358.10,140.15 359.36,140.10 360.62,140.04 361.88,139.97 363.14,139.90 364.40,139.81 365.67,139.71 366.93,139.59 368.19,139.45 369.45,139.29 370.71,139.11 371.97,138.90 373.24,138.66 374.50,138.39 375.76,138.07 377.02,137.71 378.28,137.29 379.54,136.82 380.81,136.28 382.07,135.66 383.33,134.97 384.59,134.18 385.85,133.29 387.12,132.29 388.38,131.17 389.64,129.92 390.90,128.54 392.16,127.02 393.42,125.36 394.69,123.56 395.95,121.61 397.21,119.53 398.47,117.32 399.73,115.00 400.99,112.58 402.26,110.10 403.52,107.56 404.78,105.01 406.04,102.46 407.30,99.94 408.56,97.49 409.83,95.11 411.09,92.84 412.35,90.68 413.61,88.66 414.87,86.77 416.14,85.03 417.40,83.43 418.66,81.97 419.92,80.65 421.18,79.46 422.44,78.39 423.71,77.44 424.97,76.59 426.23,75.85 427.49,75.19 428.75,74.60 430.01,74.09 431.28,73.65 432.54,73.25 433.80,72.91" fill="none" stroke="#6cb6ea" stroke-width="1.15"/>
<circle cx="332.86" cy="140.45" r="2.09" fill="none" stroke="#6cb6ea" stroke-width="1.1"/>
<circle cx="347.28" cy="140.37" r="2.09" fill="none" stroke="#6cb6ea" stroke-width="1.1"/>
<circle cx="361.70" cy="139.98" r="2.09" fill="none" stroke="#6cb6ea" stroke-width="1.1"/>
<circle cx="376.12" cy="137.97" r="2.09" fill="none" stroke="#6cb6ea" stroke-width="1.1"/>
<circle cx="390.54" cy="128.95" r="2.09" fill="none" stroke="#6cb6ea" stroke-width="1.1"/>
<circle cx="404.96" cy="104.64" r="2.09" fill="none" stroke="#6cb6ea" stroke-width="1.1"/>
<line x1="419.38" y1="86.63" x2="419.38" y2="75.76" stroke="#6cb6ea" stroke-width="0.8" />
<line x1="418.08" y1="75.76" x2="420.68" y2="75.76" stroke="#6cb6ea" stroke-width="0.8" />
<line x1="418.08" y1="86.63" x2="420.68" y2="86.63" stroke="#6cb6ea" stroke-width="0.8" />
<circle cx="419.38" cy="81.20" r="2.09" fill="none" stroke="#6cb6ea" stroke-width="1.1"/>
<line x1="433.80" y1="75.88" x2="433.80" y2="69.95" stroke="#6cb6ea" stroke-width="0.8" />
<line x1="432.50" y1="69.95" x2="435.10" y2="69.95" stroke="#6cb6ea" stroke-width="0.8" />
<line x1="432.50" y1="75.88" x2="435.10" y2="75.88" stroke="#6cb6ea" stroke-width="0.8" />
<circle cx="433.80" cy="72.91" r="2.09" fill="none" stroke="#6cb6ea" stroke-width="1.1"/>
<polyline points="332.86,140.40 334.12,140.40 335.38,140.39 336.65,140.38 337.91,140.37 339.17,140.36 340.43,140.35 341.69,140.34 342.95,140.32 344.22,140.30 345.48,140.28 346.74,140.25 348.00,140.22 349.26,140.19 350.52,140.14 351.79,140.10 353.05,140.04 354.31,139.98 355.57,139.90 356.83,139.82 358.10,139.72 359.36,139.60 360.62,139.47 361.88,139.31 363.14,139.13 364.40,138.92 365.67,138.68 366.93,138.41 368.19,138.09 369.45,137.72 370.71,137.30 371.97,136.81 373.24,136.26 374.50,135.62 375.76,134.90 377.02,134.08 378.28,133.15 379.54,132.10 380.81,130.92 382.07,129.60 383.33,128.13 384.59,126.51 385.85,124.73 387.12,122.78 388.38,120.68 389.64,118.43 390.90,116.04 392.16,113.52 393.42,110.90 394.69,108.19 395.95,105.44 397.21,102.66 398.47,99.90 399.73,97.17 400.99,94.51 402.26,91.95 403.52,89.51 404.78,87.20 406.04,85.04 407.30,83.03 408.56,81.19 409.83,79.51 411.09,77.98 412.35,76.60 413.61,75.37 414.87,74.27 416.14,73.30 417.40,72.43 418.66,71.67 419.92,71.00 421.18,70.42 422.44,69.91 423.71,69.46 424.97,69.07 426.23,68.74 427.49,68.44 428.75,68.19 430.01,67.97 431.28,67.78 432.54,67.61 433.80,67.47" fill="none" stroke="#6a6a6a" stroke-width="1.15"/>
<rect x="330.77" y="138.31" width="4.18" height="4.18" fill="none" stroke="#6a6a6a" stroke-width="1.1"/>
<circle cx="332.86" cy="140.40" r="0.77" fill="#6a6a6a"/>
<rect x="345.19" y="138.15" width="4.18" height="4.18" fill="none" stroke="#6a6a6a" stroke-width="1.1"/>
<circle cx="347.28" cy="140.24" r="0.77" fill="#6a6a6a"/>
<rect x="359.61" y="137.25" width="4.18" height="4.18" fill="none" stroke="#6a6a6a" stroke-width="1.1"/>
<circle cx="361.70" cy="139.34" r="0.77" fill="#6a6a6a"/>
<rect x="374.03" y="132.58" width="4.18" height="4.18" fill="none" stroke="#6a6a6a" stroke-width="1.1"/>
<circle cx="376.12" cy="134.67" r="0.77" fill="#6a6a6a"/>
<rect x="388.45" y="114.64" width="4.18" height="4.18" fill="none" stroke="#6a6a6a" stroke-width="1.1"/>
<circle cx="390.54" cy="116.73" r="0.77" fill="#6a6a6a"/>
<line x1="404.96" y1="89.35" x2="404.96" y2="84.41" stroke="#6a6a6a" stroke-width="0.8" />
<line x1="403.66" y1="84.41" x2="406.26" y2="84.41" stroke="#6a6a6a" stroke-width="0.8" />
<line x1="403.66" y1="89.35" x2="406.26" y2="89.35" stroke="#6a6a6a" stroke-width="0.8" />
<rect x="402.87" y="84.79" width="4.18" height="4.18" fill="none" stroke="#6a6a6a" stroke-width="1.1"/>
<circle cx="404.96" cy="86.88" r="0.77" fill="#6a6a6a"/>
<line x1="419.38" y1="74.98" x2="419.38" y2="67.57" stroke="#6a6a6a" stroke-width="0.8" />
<line x1="418.08" y1="67.57" x2="420.68" y2="67.57" stroke="#6a6a6a" stroke-width="0.8" />
<line x1="418.08" y1="74.98" x2="420.68" y2="74.98" stroke="#6a6a6a" stroke-width="0.8" />
<rect x="417.29" y="69.19" width="4.18" height="4.18" fill="none" stroke="#6a6a6a" stroke-width="1.1"/>
<circle cx="419.38" cy="71.28" r="0.77" fill="#6a6a6a"/>
<rect x="431.71" y="65.38" width="4.18" height="4.18" fill="none" stroke="#6a6a6a" stroke-width="1.1"/>
<circle cx="433.80" cy="67.47" r="0.77" fill="#6a6a6a"/>
<polyline points="332.86,140.21 334.12,140.17 335.38,140.14 336.65,140.09 337.91,140.04 339.17,139.99 340.43,139.92 341.69,139.85 342.95,139.76 344.22,139.66 345.48,139.54 346.74,139.41 348.00,139.26 349.26,139.08 350.52,138.88 351.79,138.65 353.05,138.38 354.31,138.07 355.57,137.73 356.83,137.33 358.10,136.87 359.36,136.35 360.62,135.76 361.88,135.10 363.14,134.34 364.40,133.49 365.67,132.53 366.93,131.45 368.19,130.25 369.45,128.91 370.71,127.44 371.97,125.81 373.24,124.04 374.50,122.12 375.76,120.04 377.02,117.82 378.28,115.47 379.54,113.00 380.81,110.42 382.07,107.77 383.33,105.06 384.59,102.31 385.85,99.57 387.12,96.86 388.38,94.19 389.64,91.61 390.90,89.13 392.16,86.77 393.42,84.53 394.69,82.45 395.95,80.51 397.21,78.72 398.47,77.09 399.73,75.60 400.99,74.25 402.26,73.04 403.52,71.95 404.78,70.98 406.04,70.12 407.30,69.35 408.56,68.67 409.83,68.08 411.09,67.55 412.35,67.09 413.61,66.69 414.87,66.34 416.14,66.03 417.40,65.76 418.66,65.52 419.92,65.32 421.18,65.14 422.44,64.99 423.71,64.85 424.97,64.73 426.23,64.63 427.49,64.54 428.75,64.47 430.01,64.40 431.28,64.34 432.54,64.29 433.80,64.25" fill="none" stroke="#c8b878" stroke-width="1.15"/>
<circle cx="332.86" cy="140.21" r="2.09" fill="#c8b878"/>
<circle cx="347.28" cy="139.35" r="2.09" fill="#c8b878"/>
<circle cx="361.70" cy="135.20" r="2.09" fill="#c8b878"/>
<circle cx="376.12" cy="119.42" r="2.09" fill="#c8b878"/>
<circle cx="390.54" cy="89.83" r="2.09" fill="#c8b878"/>
<line x1="404.96" y1="74.31" x2="404.96" y2="67.39" stroke="#c8b878" stroke-width="0.8" />
<line x1="403.66" y1="67.39" x2="406.26" y2="67.39" stroke="#c8b878" stroke-width="0.8" />
<line x1="403.66" y1="74.31" x2="406.26" y2="74.31" stroke="#c8b878" stroke-width="0.8" />
<circle cx="404.96" cy="70.85" r="2.09" fill="#c8b878"/>
<line x1="419.38" y1="71.58" x2="419.38" y2="59.23" stroke="#c8b878" stroke-width="0.8" />
<line x1="418.08" y1="59.23" x2="420.68" y2="59.23" stroke="#c8b878" stroke-width="0.8" />
<line x1="418.08" y1="71.58" x2="420.68" y2="71.58" stroke="#c8b878" stroke-width="0.8" />
<circle cx="419.38" cy="65.40" r="2.09" fill="#c8b878"/>
<line x1="433.80" y1="67.21" x2="433.80" y2="61.29" stroke="#c8b878" stroke-width="0.8" />
<line x1="432.50" y1="61.29" x2="435.10" y2="61.29" stroke="#c8b878" stroke-width="0.8" />
<line x1="432.50" y1="67.21" x2="435.10" y2="67.21" stroke="#c8b878" stroke-width="0.8" />
<circle cx="433.80" cy="64.25" r="2.09" fill="#c8b878"/>
<polyline points="332.86,139.46 333.94,139.39 335.02,139.31 336.10,139.22 337.19,139.12 338.27,138.99 339.35,138.85 340.43,138.68 341.51,138.49 342.59,138.26 343.68,138.00 344.76,137.69 345.84,137.33 346.92,136.92 348.00,136.45 349.08,135.90 350.16,135.26 351.25,134.54 352.33,133.70 353.41,132.75 354.49,131.68 355.57,130.46 356.65,129.08 357.73,127.55 358.82,125.84 359.90,123.95 360.98,121.89 362.06,119.65 363.14,117.23 364.22,114.67 365.31,111.96 366.39,109.14 367.47,106.24 368.55,103.29 369.63,100.33 370.71,97.39 371.79,94.51 372.88,91.71 373.96,89.04 375.04,86.51 376.12,84.14 377.20,81.95 378.28,79.93 379.36,78.09 380.45,76.43 381.53,74.93 382.61,73.60 383.69,72.42 384.77,71.37 385.85,70.45 386.94,69.65 388.02,68.95 389.10,68.34 390.18,67.81 391.26,67.35 392.34,66.95 393.42,66.61 394.51,66.31 395.59,66.06 396.67,65.84 397.75,65.65 398.83,65.49 399.91,65.36 400.99,65.24 402.08,65.14 403.16,65.05 404.24,64.97 405.32,64.91 406.40,64.86 407.48,64.81 408.56,64.77 409.65,64.74 410.73,64.71 411.81,64.68 412.89,64.66 413.97,64.64 415.05,64.63 416.14,64.61 417.22,64.60 418.30,64.59 419.38,64.58" fill="none" stroke="#c27ad6" stroke-width="1.15"/>
<circle cx="332.86" cy="139.46" r="2.09" fill="none" stroke="#c27ad6" stroke-width="1.1"/>
<circle cx="347.28" cy="136.77" r="2.09" fill="none" stroke="#c27ad6" stroke-width="1.1"/>
<circle cx="361.70" cy="120.41" r="2.09" fill="none" stroke="#c27ad6" stroke-width="1.1"/>
<line x1="376.12" y1="86.61" x2="376.12" y2="81.67" stroke="#c27ad6" stroke-width="0.8" />
<line x1="374.82" y1="81.67" x2="377.42" y2="81.67" stroke="#c27ad6" stroke-width="0.8" />
<line x1="374.82" y1="86.61" x2="377.42" y2="86.61" stroke="#c27ad6" stroke-width="0.8" />
<circle cx="376.12" cy="84.14" r="2.09" fill="none" stroke="#c27ad6" stroke-width="1.1"/>
<line x1="390.54" y1="70.61" x2="390.54" y2="64.68" stroke="#c27ad6" stroke-width="0.8" />
<line x1="389.24" y1="64.68" x2="391.84" y2="64.68" stroke="#c27ad6" stroke-width="0.8" />
<line x1="389.24" y1="70.61" x2="391.84" y2="70.61" stroke="#c27ad6" stroke-width="0.8" />
<circle cx="390.54" cy="67.65" r="2.09" fill="none" stroke="#c27ad6" stroke-width="1.1"/>
<circle cx="404.96" cy="64.93" r="2.09" fill="none" stroke="#c27ad6" stroke-width="1.1"/>
<circle cx="419.38" cy="64.58" r="2.09" fill="none" stroke="#c27ad6" stroke-width="1.1"/>
<polyline points="332.86,137.71 333.94,137.64 335.02,137.56 336.10,137.46 337.19,137.34 338.27,137.19 339.35,137.03 340.43,136.82 341.51,136.58 342.59,136.30 343.68,135.96 344.76,135.56 345.84,135.09 346.92,134.54 348.00,133.88 349.08,133.11 350.16,132.22 351.25,131.17 352.33,129.97 353.41,128.58 354.49,127.00 355.57,125.20 356.65,123.17 357.73,120.92 358.82,118.44 359.90,115.75 360.98,112.85 362.06,109.78 363.14,106.57 364.22,103.28 365.31,99.94 366.39,96.62 367.47,93.37 368.55,90.23 369.63,87.25 370.71,84.45 371.79,81.87 372.88,79.51 373.96,77.38 375.04,75.48 376.12,73.80 377.20,72.32 378.28,71.03 379.36,69.92 380.45,68.95 381.53,68.13 382.61,67.42 383.69,66.82 384.77,66.31 385.85,65.88 386.94,65.51 388.02,65.21 389.10,64.95 390.18,64.73 391.26,64.55 392.34,64.39 393.42,64.26 394.51,64.15 395.59,64.06 396.67,63.99 397.75,63.92 398.83,63.87 399.91,63.83 400.99,63.79 402.08,63.76 403.16,63.73 404.24,63.71 405.32,63.69 406.40,63.68 407.48,63.66 408.56,63.65 409.65,63.64 410.73,63.64 411.81,63.63 412.89,63.62 413.97,63.62 415.05,63.62 416.14,63.61 417.22,63.61 418.30,63.61 419.38,63.61" fill="none" stroke="#ff3b3b" stroke-width="1.15"/>
<polygon points="332.86,135.40 335.17,137.71 332.86,140.02 330.55,137.71" fill="none" stroke="#ff3b3b" stroke-width="1.1"/>
<polygon points="347.28,132.02 349.59,134.33 347.28,136.64 344.97,134.33" fill="none" stroke="#ff3b3b" stroke-width="1.1"/>
<line x1="361.70" y1="113.78" x2="361.70" y2="107.85" stroke="#ff3b3b" stroke-width="0.8" />
<line x1="360.40" y1="107.85" x2="363.00" y2="107.85" stroke="#ff3b3b" stroke-width="0.8" />
<line x1="360.40" y1="113.78" x2="363.00" y2="113.78" stroke="#ff3b3b" stroke-width="0.8" />
<polygon points="361.70,108.51 364.01,110.82 361.70,113.13 359.39,110.82" fill="none" stroke="#ff3b3b" stroke-width="1.1"/>
<line x1="376.12" y1="78.24" x2="376.12" y2="69.35" stroke="#ff3b3b" stroke-width="0.8" />
<line x1="374.82" y1="69.35" x2="377.42" y2="69.35" stroke="#ff3b3b" stroke-width="0.8" />
<line x1="374.82" y1="78.24" x2="377.42" y2="78.24" stroke="#ff3b3b" stroke-width="0.8" />
<polygon points="376.12,71.49 378.43,73.80 376.12,76.11 373.81,73.80" fill="none" stroke="#ff3b3b" stroke-width="1.1"/>
<line x1="390.54" y1="68.12" x2="390.54" y2="61.21" stroke="#ff3b3b" stroke-width="0.8" />
<line x1="389.24" y1="61.21" x2="391.84" y2="61.21" stroke="#ff3b3b" stroke-width="0.8" />
<line x1="389.24" y1="68.12" x2="391.84" y2="68.12" stroke="#ff3b3b" stroke-width="0.8" />
<polygon points="390.54,62.35 392.85,64.66 390.54,66.97 388.23,64.66" fill="none" stroke="#ff3b3b" stroke-width="1.1"/>
<polygon points="404.96,61.39 407.27,63.70 404.96,66.01 402.65,63.70" fill="none" stroke="#ff3b3b" stroke-width="1.1"/>
<polygon points="419.38,61.30 421.69,63.61 419.38,65.92 417.07,63.61" fill="none" stroke="#ff3b3b" stroke-width="1.1"/>
<polyline points="318.44,139.43 319.70,139.42 320.96,139.42 322.23,139.41 323.49,139.40 324.75,139.39 326.01,139.38 327.27,139.36 328.53,139.35 329.80,139.32 331.06,139.30 332.32,139.27 333.58,139.23 334.84,139.18 336.10,139.12 337.37,139.06 338.63,138.97 339.89,138.88 341.15,138.76 342.41,138.61 343.68,138.44 344.94,138.23 346.20,137.98 347.46,137.68 348.72,137.32 349.98,136.89 351.25,136.37 352.51,135.76 353.77,135.03 355.03,134.17 356.29,133.15 357.55,131.96 358.82,130.57 360.08,128.97 361.34,127.12 362.60,125.03 363.86,122.67 365.12,120.04 366.39,117.15 367.65,114.03 368.91,110.70 370.17,107.20 371.43,103.60 372.70,99.95 373.96,96.32 375.22,92.77 376.48,89.36 377.74,86.14 379.00,83.15 380.27,80.42 381.53,77.94 382.79,75.74 384.05,73.79 385.31,72.08 386.57,70.61 387.84,69.34 389.10,68.25 390.36,67.33 391.62,66.54 392.88,65.88 394.14,65.33 395.41,64.86 396.67,64.48 397.93,64.15 399.19,63.88 400.45,63.65 401.72,63.47 402.98,63.31 404.24,63.18 405.50,63.08 406.76,62.99 408.02,62.91 409.29,62.85 410.55,62.80 411.81,62.76 413.07,62.73 414.33,62.70 415.59,62.67 416.86,62.65 418.12,62.64 419.38,62.62" fill="none" stroke="#1f4fa8" stroke-width="1.15"/>
<polygon points="318.44,137.23 320.64,139.43 318.44,141.63 316.24,139.43" fill="#1f4fa8"/>
<polygon points="332.86,137.05 335.06,139.25 332.86,141.45 330.66,139.25" fill="#1f4fa8"/>
<polygon points="347.28,135.53 349.48,137.73 347.28,139.93 345.08,137.73" fill="#1f4fa8"/>
<polygon points="361.70,124.35 363.90,126.55 361.70,128.75 359.50,126.55" fill="#1f4fa8"/>
<polygon points="376.12,88.12 378.32,90.32 376.12,92.52 373.92,90.32" fill="#1f4fa8"/>
<polygon points="390.54,65.01 392.74,67.21 390.54,69.41 388.34,67.21" fill="#1f4fa8"/>
<polygon points="404.96,60.92 407.16,63.12 404.96,65.32 402.76,63.12" fill="#1f4fa8"/>
<polygon points="419.38,60.42 421.58,62.62 419.38,64.82 417.18,62.62" fill="#1f4fa8"/>
<line x1="310.20" y1="142.10" x2="310.20" y2="42.80" stroke="#2a2a2a" stroke-width="1.2" />
<line x1="307.20" y1="141.60" x2="310.20" y2="141.60" stroke="#2a2a2a" stroke-width="1.1" />
<text x="306.00" y="144.30" font-size="7.5" font-weight="bold" text-anchor="end" fill="#222" >0</text>
<line x1="307.20" y1="116.90" x2="310.20" y2="116.90" stroke="#2a2a2a" stroke-width="1.1" />
<text x="306.00" y="119.60" font-size="7.5" font-weight="bold" text-anchor="end" fill="#222" >1</text>
<line x1="307.20" y1="92.20" x2="310.20" y2="92.20" stroke="#2a2a2a" stroke-width="1.1" />
<text x="306.00" y="94.90" font-size="7.5" font-weight="bold" text-anchor="end" fill="#222" >2</text>
<line x1="307.20" y1="67.50" x2="310.20" y2="67.50" stroke="#2a2a2a" stroke-width="1.1" />
<text x="306.00" y="70.20" font-size="7.5" font-weight="bold" text-anchor="end" fill="#222" >3</text>
<line x1="307.20" y1="42.80" x2="310.20" y2="42.80" stroke="#2a2a2a" stroke-width="1.1" />
<text x="306.00" y="45.50" font-size="7.5" font-weight="bold" text-anchor="end" fill="#222" >4</text>
<line x1="309.60" y1="141.60" x2="454.40" y2="141.60" stroke="#2a2a2a" stroke-width="1.2" />
<line x1="310.20" y1="141.60" x2="310.20" y2="144.60" stroke="#2a2a2a" stroke-width="1.1" />
<text x="310.20" y="154.20" font-size="7.5" font-weight="bold" text-anchor="middle" fill="#222" >-3</text>
<line x1="330.80" y1="141.60" x2="330.80" y2="144.60" stroke="#2a2a2a" stroke-width="1.1" />
<text x="330.80" y="154.20" font-size="7.5" font-weight="bold" text-anchor="middle" fill="#222" >-2</text>
<line x1="351.40" y1="141.60" x2="351.40" y2="144.60" stroke="#2a2a2a" stroke-width="1.1" />
<text x="351.40" y="154.20" font-size="7.5" font-weight="bold" text-anchor="middle" fill="#222" >-1</text>
<line x1="372.00" y1="141.60" x2="372.00" y2="144.60" stroke="#2a2a2a" stroke-width="1.1" />
<text x="372.00" y="154.20" font-size="7.5" font-weight="bold" text-anchor="middle" fill="#222" >0</text>
<line x1="392.60" y1="141.60" x2="392.60" y2="144.60" stroke="#2a2a2a" stroke-width="1.1" />
<text x="392.60" y="154.20" font-size="7.5" font-weight="bold" text-anchor="middle" fill="#222" >1</text>
<line x1="413.20" y1="141.60" x2="413.20" y2="144.60" stroke="#2a2a2a" stroke-width="1.1" />
<text x="413.20" y="154.20" font-size="7.5" font-weight="bold" text-anchor="middle" fill="#222" >2</text>
<line x1="433.80" y1="141.60" x2="433.80" y2="144.60" stroke="#2a2a2a" stroke-width="1.1" />
<text x="433.80" y="154.20" font-size="7.5" font-weight="bold" text-anchor="middle" fill="#222" >3</text>
<line x1="454.40" y1="141.60" x2="454.40" y2="144.60" stroke="#2a2a2a" stroke-width="1.1" />
<text x="454.40" y="154.20" font-size="7.5" font-weight="bold" text-anchor="middle" fill="#222" >4</text>
<text x="334.80" y="52.20" font-size="8.8" font-weight="normal" text-anchor="start" fill="#222" >Omicron BA.1 RBD</text>
<text x="294.6" y="92.2" transform="rotate(-90 294.6 92.2)" text-anchor="middle" dy="2.8" font-size="7.8" font-weight="bold" fill="#222">OD450 nm</text>
<text id="xlB" x="380.4" y="166.2" text-anchor="middle" font-size="7.8" font-weight="bold" fill="#222">Log<tspan font-size="6.4" dy="2.3" dx="1.6">10</tspan><tspan dy="-2.3" dx="1.2">VHH concentration (ng/mL)</tspan></text>
<text x="510.4" y="15.4" font-size="6.6" font-weight="bold" fill="#222">EC<tspan font-size="5.2" dy="1.3">50</tspan></text>
<text x="493.60" y="27.60" font-size="6.6" font-weight="bold" text-anchor="start" fill="#222" >ng/mL</text>
<text x="522.70" y="27.60" font-size="6.4" font-weight="bold" text-anchor="start" fill="#222" >pM</text>
<line x1="458.80" y1="37.80" x2="470.20" y2="37.80" stroke="#c27ad6" stroke-width="1.3" />
<circle cx="464.50" cy="37.80" r="1.80" fill="none" stroke="#c27ad6" stroke-width="1.1"/>
<text x="475.50" y="40.40" font-size="7.2" font-weight="normal" text-anchor="start" fill="#222" >A14</text>
<text x="494.50" y="40.40" font-size="7.2" font-weight="normal" text-anchor="start" fill="#222" >0.76</text>
<text x="520.00" y="40.40" font-size="7.2" font-weight="normal" text-anchor="start" fill="#222" >49.67</text>
<line x1="458.80" y1="50.70" x2="470.20" y2="50.70" stroke="#7b1f63" stroke-width="1.3" />
<rect x="462.69" y="48.89" width="3.61" height="3.61" fill="none" stroke="#7b1f63" stroke-width="1.1"/>
<text x="475.50" y="53.30" font-size="7.2" font-weight="normal" text-anchor="start" fill="#222" >A31</text>
<text x="494.50" y="53.30" font-size="7.2" font-weight="normal" text-anchor="start" fill="#222" >107</text>
<text x="520.00" y="53.30" font-size="7.2" font-weight="normal" text-anchor="start" fill="#222" >8008</text>
<line x1="458.80" y1="63.60" x2="470.20" y2="63.60" stroke="#c8b878" stroke-width="1.3" />
<circle cx="464.50" cy="63.60" r="1.80" fill="#c8b878"/>
<text x="475.50" y="66.20" font-size="7.2" font-weight="normal" text-anchor="start" fill="#222" >B13</text>
<text x="494.50" y="66.20" font-size="7.2" font-weight="normal" text-anchor="start" fill="#222" >4.28</text>
<text x="520.00" y="66.20" font-size="7.2" font-weight="normal" text-anchor="start" fill="#222" >322</text>
<line x1="458.80" y1="76.50" x2="470.20" y2="76.50" stroke="#0f7a3a" stroke-width="1.3" />
<polygon points="464.50,74.41 466.59,78.17 462.41,78.17" fill="#0f7a3a"/>
<text x="475.50" y="79.10" font-size="7.2" font-weight="normal" text-anchor="start" fill="#222" >B18</text>
<text x="494.50" y="79.10" font-size="7.2" font-weight="normal" text-anchor="start" fill="#222" >74.65</text>
<text x="520.00" y="79.10" font-size="7.2" font-weight="normal" text-anchor="start" fill="#222" >5613</text>
<line x1="458.80" y1="89.40" x2="470.20" y2="89.40" stroke="#1f4fa8" stroke-width="1.3" />
<polygon points="464.50,87.50 466.40,89.40 464.50,91.30 462.60,89.40" fill="#1f4fa8"/>
<text x="475.50" y="92.00" font-size="7.2" font-weight="normal" text-anchor="start" fill="#222" >B20</text>
<text x="494.50" y="92.00" font-size="7.2" font-weight="normal" text-anchor="start" fill="#222" >1.01</text>
<text x="520.00" y="92.00" font-size="7.2" font-weight="normal" text-anchor="start" fill="#222" >74.81</text>
<line x1="458.80" y1="102.30" x2="470.20" y2="102.30" stroke="#ffa866" stroke-width="1.3" />
<line x1="464.50" y1="101.10" x2="464.50" y2="103.50" stroke="#ffa866" stroke-width="0.8" />
<text x="475.50" y="104.90" font-size="7.2" font-weight="normal" text-anchor="start" fill="#222" >B27</text>
<text x="494.50" y="104.90" font-size="7.2" font-weight="normal" text-anchor="start" fill="#222" >&gt;1000</text>
<text x="520.00" y="104.90" font-size="7.2" font-weight="normal" text-anchor="start" fill="#222" >&gt;70000</text>
<line x1="458.80" y1="115.20" x2="470.20" y2="115.20" stroke="#6a6a6a" stroke-width="1.3" />
<rect x="462.69" y="113.39" width="3.61" height="3.61" fill="none" stroke="#6a6a6a" stroke-width="1.1"/>
<circle cx="464.50" cy="115.20" r="0.66" fill="#6a6a6a"/>
<text x="475.50" y="117.80" font-size="7.2" font-weight="normal" text-anchor="start" fill="#222" >C2</text>
<text x="494.50" y="117.80" font-size="7.2" font-weight="normal" text-anchor="start" fill="#222" >17.66</text>
<text x="520.00" y="117.80" font-size="7.2" font-weight="normal" text-anchor="start" fill="#222" >1318</text>
<line x1="458.80" y1="128.10" x2="470.20" y2="128.10" stroke="#ff3b3b" stroke-width="1.3" />
<polygon points="464.50,126.10 466.50,128.10 464.50,130.09 462.50,128.10" fill="none" stroke="#ff3b3b" stroke-width="1.1"/>
<text x="475.50" y="130.70" font-size="7.2" font-weight="normal" text-anchor="start" fill="#222" >C8</text>
<text x="494.50" y="130.70" font-size="7.2" font-weight="normal" text-anchor="start" fill="#222" >0.46</text>
<text x="520.00" y="130.70" font-size="7.2" font-weight="normal" text-anchor="start" fill="#222" >32.62</text>
<line x1="458.80" y1="141.00" x2="470.20" y2="141.00" stroke="#6cb6ea" stroke-width="1.3" />
<circle cx="464.50" cy="141.00" r="1.80" fill="none" stroke="#6cb6ea" stroke-width="1.1"/>
<text x="475.50" y="143.60" font-size="7.2" font-weight="normal" text-anchor="start" fill="#222" >D11</text>
<text x="494.50" y="143.60" font-size="7.2" font-weight="normal" text-anchor="start" fill="#222" >41.22</text>
<text x="520.00" y="143.60" font-size="7.2" font-weight="normal" text-anchor="start" fill="#222" >3147</text>
<rect x="110.00" y="275.80" width="23.00" height="9.20" fill="#d9d9d9" />
<rect x="193.80" y="299.60" width="28.30" height="9.00" fill="#d9d9d9" />
<rect x="135.80" y="236.80" width="24.70" height="12.00" fill="#d9d9d9" />
<rect x="135.80" y="263.50" width="24.70" height="9.50" fill="#d9d9d9" />
<rect x="78.70" y="251.60" width="28.50" height="9.10" fill="#d9d9d9" />
<rect x="163.30" y="251.60" width="27.70" height="9.10" fill="#d9d9d9" />
<rect x="287.60" y="324.10" width="28.50" height="10.20" fill="#d9d9d9" />
<rect x="78.70" y="275.80" width="28.50" height="9.20" fill="#d9d9d9" />
<rect x="224.90" y="287.80" width="28.40" height="9.00" fill="#d9d9d9" />
<rect x="163.30" y="275.80" width="27.70" height="9.20" fill="#d9d9d9" />
<rect x="110.00" y="236.80" width="23.00" height="12.00" fill="#d9d9d9" />
<rect x="318.90" y="337.10" width="28.20" height="10.60" fill="#d9d9d9" />
<rect x="135.80" y="251.60" width="24.70" height="9.10" fill="#d9d9d9" />
<rect x="110.00" y="263.50" width="23.00" height="9.50" fill="#d9d9d9" />
<rect x="135.80" y="275.80" width="24.70" height="9.20" fill="#d9d9d9" />
<rect x="193.80" y="287.80" width="28.30" height="9.00" fill="#d9d9d9" />
<rect x="224.90" y="299.60" width="28.40" height="9.00" fill="#d9d9d9" />
<rect x="78.70" y="236.80" width="28.50" height="12.00" fill="#d9d9d9" />
<rect x="110.00" y="251.60" width="23.00" height="9.10" fill="#d9d9d9" />
<rect x="163.30" y="236.80" width="27.70" height="12.00" fill="#d9d9d9" />
<rect x="78.70" y="263.50" width="28.50" height="9.50" fill="#d9d9d9" />
<rect x="163.30" y="263.50" width="27.70" height="9.50" fill="#d9d9d9" />
<rect x="256.10" y="311.40" width="28.70" height="9.90" fill="#d9d9d9" />
<rect x="14.6" y="203.4" width="333.9" height="145.70000000000002" fill="none" stroke="#555555" stroke-width="1.3"/>
<line x1="77.30" y1="216.30" x2="348.50" y2="216.30" stroke="#555555" stroke-width="1.15" />
<line x1="14.60" y1="235.40" x2="348.50" y2="235.40" stroke="#555555" stroke-width="1.15" />
<line x1="45.50" y1="250.20" x2="348.50" y2="250.20" stroke="#555555" stroke-width="1.15" />
<line x1="45.50" y1="262.10" x2="348.50" y2="262.10" stroke="#555555" stroke-width="1.15" />
<line x1="45.50" y1="274.40" x2="348.50" y2="274.40" stroke="#555555" stroke-width="1.15" />
<line x1="14.60" y1="286.40" x2="348.50" y2="286.40" stroke="#555555" stroke-width="1.15" />
<line x1="45.50" y1="298.20" x2="348.50" y2="298.20" stroke="#555555" stroke-width="1.15" />
<line x1="14.60" y1="310.00" x2="348.50" y2="310.00" stroke="#555555" stroke-width="1.15" />
<line x1="14.60" y1="322.70" x2="348.50" y2="322.70" stroke="#555555" stroke-width="1.15" />
<line x1="14.60" y1="335.70" x2="348.50" y2="335.70" stroke="#555555" stroke-width="1.15" />
<line x1="45.50" y1="235.40" x2="45.50" y2="349.10" stroke="#555555" stroke-width="1.15" />
<line x1="77.30" y1="203.40" x2="77.30" y2="349.10" stroke="#555555" stroke-width="1.15" />
<line x1="108.60" y1="216.30" x2="108.60" y2="349.10" stroke="#555555" stroke-width="1.15" />
<line x1="134.40" y1="216.30" x2="134.40" y2="349.10" stroke="#555555" stroke-width="1.15" />
<line x1="161.90" y1="216.30" x2="161.90" y2="349.10" stroke="#555555" stroke-width="1.15" />
<line x1="192.40" y1="203.40" x2="192.40" y2="349.10" stroke="#555555" stroke-width="1.15" />
<line x1="223.50" y1="216.30" x2="223.50" y2="349.10" stroke="#555555" stroke-width="1.15" />
<line x1="254.70" y1="203.40" x2="254.70" y2="349.10" stroke="#555555" stroke-width="1.15" />
<line x1="286.20" y1="203.40" x2="286.20" y2="349.10" stroke="#555555" stroke-width="1.15" />
<line x1="317.50" y1="203.40" x2="317.50" y2="349.10" stroke="#555555" stroke-width="1.15" />
<text x="134.85" y="212.35" font-size="7" font-weight="bold" text-anchor="middle" fill="#ff2a2a" >A</text>
<text x="223.55" y="212.35" font-size="7" font-weight="bold" text-anchor="middle" fill="#35b6c4" >B</text>
<text x="270.45" y="212.35" font-size="7" font-weight="bold" text-anchor="middle" fill="#8e44c4" >C</text>
<text x="301.85" y="212.35" font-size="7" font-weight="bold" text-anchor="middle" fill="#ffb21a" >D</text>
<text x="333.00" y="212.35" font-size="7" font-weight="bold" text-anchor="middle" fill="#444444" >E</text>
<text x="45.95" y="221.80" font-size="6.6" font-weight="bold" text-anchor="middle" fill="#222" >Competition group</text>
<text x="92.95" y="228.35" font-size="6.8" font-weight="bold" text-anchor="middle" fill="#222" >A31</text>
<text x="121.50" y="228.35" font-size="6.8" font-weight="bold" text-anchor="middle" fill="#222" >B13</text>
<text x="148.15" y="228.35" font-size="6.8" font-weight="bold" text-anchor="middle" fill="#222" >B18</text>
<text x="177.15" y="228.35" font-size="6.8" font-weight="bold" text-anchor="middle" fill="#222" >D11</text>
<text x="207.95" y="228.35" font-size="6.8" font-weight="bold" text-anchor="middle" fill="#222" >B27</text>
<text x="239.10" y="228.35" font-size="6.8" font-weight="bold" text-anchor="middle" fill="#222" >C2</text>
<text x="270.45" y="228.35" font-size="6.8" font-weight="bold" text-anchor="middle" fill="#222" >A14</text>
<text x="301.85" y="228.35" font-size="6.8" font-weight="bold" text-anchor="middle" fill="#222" >B20</text>
<text x="333.00" y="228.35" font-size="6.8" font-weight="bold" text-anchor="middle" fill="#222" >C8</text>
<text x="30.05" y="263.40" font-size="7" font-weight="bold" text-anchor="middle" fill="#ff2a2a" >A</text>
<text x="30.05" y="300.70" font-size="7" font-weight="bold" text-anchor="middle" fill="#35b6c4" >B</text>
<text x="30.05" y="318.85" font-size="7" font-weight="bold" text-anchor="middle" fill="#8e44c4" >C</text>
<text x="30.05" y="331.70" font-size="7" font-weight="bold" text-anchor="middle" fill="#ffb21a" >D</text>
<text x="30.05" y="344.90" font-size="7" font-weight="bold" text-anchor="middle" fill="#444444" >E</text>
<text x="61.40" y="245.10" font-size="6.8" font-weight="bold" text-anchor="middle" fill="#222" >A31</text>
<text x="61.40" y="258.45" font-size="6.8" font-weight="bold" text-anchor="middle" fill="#222" >B13</text>
<text x="61.40" y="270.55" font-size="6.8" font-weight="bold" text-anchor="middle" fill="#222" >B18</text>
<text x="61.40" y="282.70" font-size="6.8" font-weight="bold" text-anchor="middle" fill="#222" >D11</text>
<text x="61.40" y="294.60" font-size="6.8" font-weight="bold" text-anchor="middle" fill="#222" >B27</text>
<text x="61.40" y="306.40" font-size="6.8" font-weight="bold" text-anchor="middle" fill="#222" >C2</text>
<text x="61.40" y="318.65" font-size="6.8" font-weight="bold" text-anchor="middle" fill="#222" >A14</text>
<text x="61.40" y="331.50" font-size="6.8" font-weight="bold" text-anchor="middle" fill="#222" >B20</text>
<text x="61.40" y="344.70" font-size="6.8" font-weight="bold" text-anchor="middle" fill="#222" >C8</text>
<text x="92.95" y="245.00" font-size="6.8" font-weight="bold" text-anchor="middle" fill="#ff2020" >14.06</text>
<text x="121.50" y="245.00" font-size="6.8" font-weight="bold" text-anchor="middle" fill="#ff2020" >18.99</text>
<text x="148.15" y="245.00" font-size="6.8" font-weight="bold" text-anchor="middle" fill="#ff2020" >18.39</text>
<text x="177.15" y="245.00" font-size="6.8" font-weight="bold" text-anchor="middle" fill="#ff2020" >17.06</text>
<text x="207.95" y="245.00" font-size="6.8" font-weight="normal" text-anchor="middle" fill="#222" >101.2</text>
<text x="239.10" y="245.00" font-size="6.8" font-weight="normal" text-anchor="middle" fill="#222" >102.1</text>
<text x="270.45" y="245.00" font-size="6.8" font-weight="normal" text-anchor="middle" fill="#222" >100.34</text>
<text x="301.85" y="245.00" font-size="6.8" font-weight="normal" text-anchor="middle" fill="#222" >101.39</text>
<text x="333.00" y="245.00" font-size="6.8" font-weight="normal" text-anchor="middle" fill="#222" >99.56</text>
<text x="92.95" y="258.35" font-size="6.8" font-weight="bold" text-anchor="middle" fill="#ff2020" >14.82</text>
<text x="121.50" y="258.35" font-size="6.8" font-weight="bold" text-anchor="middle" fill="#ff2020" >9.43</text>
<text x="148.15" y="258.35" font-size="6.8" font-weight="bold" text-anchor="middle" fill="#ff2020" >5.52</text>
<text x="177.15" y="258.35" font-size="6.8" font-weight="bold" text-anchor="middle" fill="#ff2020" >13.36</text>
<text x="207.95" y="258.35" font-size="6.8" font-weight="normal" text-anchor="middle" fill="#222" >101.9</text>
<text x="239.10" y="258.35" font-size="6.8" font-weight="normal" text-anchor="middle" fill="#222" >100.18</text>
<text x="270.45" y="258.35" font-size="6.8" font-weight="normal" text-anchor="middle" fill="#222" >96.94</text>
<text x="301.85" y="258.35" font-size="6.8" font-weight="normal" text-anchor="middle" fill="#222" >100.66</text>
<text x="333.00" y="258.35" font-size="6.8" font-weight="normal" text-anchor="middle" fill="#222" >99.2</text>
<text x="92.95" y="270.45" font-size="6.8" font-weight="bold" text-anchor="middle" fill="#ff2020" >18.71</text>
<text x="121.50" y="270.45" font-size="6.8" font-weight="bold" text-anchor="middle" fill="#ff2020" >15.41</text>
<text x="148.15" y="270.45" font-size="6.8" font-weight="bold" text-anchor="middle" fill="#ff2020" >15.19</text>
<text x="177.15" y="270.45" font-size="6.8" font-weight="bold" text-anchor="middle" fill="#ff2020" >15.76</text>
<text x="207.95" y="270.45" font-size="6.8" font-weight="normal" text-anchor="middle" fill="#222" >100.62</text>
<text x="239.10" y="270.45" font-size="6.8" font-weight="normal" text-anchor="middle" fill="#222" >101.28</text>
<text x="270.45" y="270.45" font-size="6.8" font-weight="normal" text-anchor="middle" fill="#222" >98.46</text>
<text x="301.85" y="270.45" font-size="6.8" font-weight="normal" text-anchor="middle" fill="#222" >100.82</text>
<text x="333.00" y="270.45" font-size="6.8" font-weight="normal" text-anchor="middle" fill="#222" >99.38</text>
<text x="92.95" y="282.60" font-size="6.8" font-weight="bold" text-anchor="middle" fill="#ff2020" >16.66</text>
<text x="121.50" y="282.60" font-size="6.8" font-weight="bold" text-anchor="middle" fill="#ff2020" >11.44</text>
<text x="148.15" y="282.60" font-size="6.8" font-weight="bold" text-anchor="middle" fill="#ff2020" >9.73</text>
<text x="177.15" y="282.60" font-size="6.8" font-weight="bold" text-anchor="middle" fill="#ff2020" >10.22</text>
<text x="207.95" y="282.60" font-size="6.8" font-weight="normal" text-anchor="middle" fill="#222" >101.36</text>
<text x="239.10" y="282.60" font-size="6.8" font-weight="normal" text-anchor="middle" fill="#222" >101.16</text>
<text x="270.45" y="282.60" font-size="6.8" font-weight="normal" text-anchor="middle" fill="#222" >99.41</text>
<text x="301.85" y="282.60" font-size="6.8" font-weight="normal" text-anchor="middle" fill="#222" >98.99</text>
<text x="333.00" y="282.60" font-size="6.8" font-weight="normal" text-anchor="middle" fill="#222" >100.58</text>
<text x="92.95" y="294.50" font-size="6.8" font-weight="normal" text-anchor="middle" fill="#222" >98.48</text>
<text x="121.50" y="294.50" font-size="6.8" font-weight="normal" text-anchor="middle" fill="#222" >99.25</text>
<text x="148.15" y="294.50" font-size="6.8" font-weight="normal" text-anchor="middle" fill="#222" >93.32</text>
<text x="177.15" y="294.50" font-size="6.8" font-weight="normal" text-anchor="middle" fill="#222" >100.17</text>
<text x="207.95" y="294.50" font-size="6.8" font-weight="bold" text-anchor="middle" fill="#ff2020" >12.04</text>
<text x="239.10" y="294.50" font-size="6.8" font-weight="bold" text-anchor="middle" fill="#ff2020" >18.93</text>
<text x="270.45" y="294.50" font-size="6.8" font-weight="normal" text-anchor="middle" fill="#222" >100.94</text>
<text x="301.85" y="294.50" font-size="6.8" font-weight="normal" text-anchor="middle" fill="#222" >100.05</text>
<text x="333.00" y="294.50" font-size="6.8" font-weight="normal" text-anchor="middle" fill="#222" >100.55</text>
<text x="92.95" y="306.30" font-size="6.8" font-weight="normal" text-anchor="middle" fill="#222" >98.17</text>
<text x="121.50" y="306.30" font-size="6.8" font-weight="normal" text-anchor="middle" fill="#222" >99.68</text>
<text x="148.15" y="306.30" font-size="6.8" font-weight="normal" text-anchor="middle" fill="#222" >95.52</text>
<text x="177.15" y="306.30" font-size="6.8" font-weight="normal" text-anchor="middle" fill="#222" >99.89</text>
<text x="207.95" y="306.30" font-size="6.8" font-weight="bold" text-anchor="middle" fill="#ff2020" >4.94</text>
<text x="239.10" y="306.30" font-size="6.8" font-weight="bold" text-anchor="middle" fill="#ff2020" >7.88</text>
<text x="270.45" y="306.30" font-size="6.8" font-weight="normal" text-anchor="middle" fill="#222" >99.95</text>
<text x="301.85" y="306.30" font-size="6.8" font-weight="normal" text-anchor="middle" fill="#222" >99.85</text>
<text x="333.00" y="306.30" font-size="6.8" font-weight="normal" text-anchor="middle" fill="#222" >99.24</text>
<text x="92.95" y="318.55" font-size="6.8" font-weight="normal" text-anchor="middle" fill="#222" >97.71</text>
<text x="121.50" y="318.55" font-size="6.8" font-weight="normal" text-anchor="middle" fill="#222" >99.39</text>
<text x="148.15" y="318.55" font-size="6.8" font-weight="normal" text-anchor="middle" fill="#222" >92.73</text>
<text x="177.15" y="318.55" font-size="6.8" font-weight="normal" text-anchor="middle" fill="#222" >99.5</text>
<text x="207.95" y="318.55" font-size="6.8" font-weight="normal" text-anchor="middle" fill="#222" >100.52</text>
<text x="239.10" y="318.55" font-size="6.8" font-weight="normal" text-anchor="middle" fill="#222" >100.84</text>
<text x="270.45" y="318.55" font-size="6.8" font-weight="bold" text-anchor="middle" fill="#ff2020" >12.89</text>
<text x="301.85" y="318.55" font-size="6.8" font-weight="normal" text-anchor="middle" fill="#222" >103.32</text>
<text x="333.00" y="318.55" font-size="6.8" font-weight="normal" text-anchor="middle" fill="#222" >100.3</text>
<text x="92.95" y="331.40" font-size="6.8" font-weight="normal" text-anchor="middle" fill="#222" >97.64</text>
<text x="121.50" y="331.40" font-size="6.8" font-weight="normal" text-anchor="middle" fill="#222" >100.45</text>
<text x="148.15" y="331.40" font-size="6.8" font-weight="normal" text-anchor="middle" fill="#222" >90.97</text>
<text x="177.15" y="331.40" font-size="6.8" font-weight="normal" text-anchor="middle" fill="#222" >100.52</text>
<text x="207.95" y="331.40" font-size="6.8" font-weight="normal" text-anchor="middle" fill="#222" >98.63</text>
<text x="239.10" y="331.40" font-size="6.8" font-weight="normal" text-anchor="middle" fill="#222" >97.39</text>
<text x="270.45" y="331.40" font-size="6.8" font-weight="normal" text-anchor="middle" fill="#222" >99.28</text>
<text x="301.85" y="331.40" font-size="6.8" font-weight="bold" text-anchor="middle" fill="#ff2020" >14.28</text>
<text x="333.00" y="331.40" font-size="6.8" font-weight="normal" text-anchor="middle" fill="#222" >99.86</text>
<text x="92.95" y="344.60" font-size="6.8" font-weight="normal" text-anchor="middle" fill="#222" >98.43</text>
<text x="121.50" y="344.60" font-size="6.8" font-weight="normal" text-anchor="middle" fill="#222" >99.38</text>
<text x="148.15" y="344.60" font-size="6.8" font-weight="normal" text-anchor="middle" fill="#222" >96.4</text>
<text x="177.15" y="344.60" font-size="6.8" font-weight="normal" text-anchor="middle" fill="#222" >99.27</text>
<text x="207.95" y="344.60" font-size="6.8" font-weight="normal" text-anchor="middle" fill="#222" >101.5</text>
<text x="239.10" y="344.60" font-size="6.8" font-weight="normal" text-anchor="middle" fill="#222" >100.75</text>
<text x="270.45" y="344.60" font-size="6.8" font-weight="normal" text-anchor="middle" fill="#222" >98.99</text>
<text x="301.85" y="344.60" font-size="6.8" font-weight="normal" text-anchor="middle" fill="#222" >100.04</text>
<text x="333.00" y="344.60" font-size="6.8" font-weight="bold" text-anchor="middle" fill="#ff2020" >9.64</text>
<line x1="388.30" y1="215.50" x2="388.30" y2="314.00" stroke="#2a2a2a" stroke-width="1.4" />
<line x1="385.10" y1="313.30" x2="388.30" y2="313.30" stroke="#2a2a2a" stroke-width="1.0" />
<text x="383.90" y="316.00" font-size="7.4" font-weight="bold" text-anchor="end" fill="#222" >-20</text>
<line x1="386.30" y1="305.15" x2="388.30" y2="305.15" stroke="#2a2a2a" stroke-width="1.0" />
<line x1="385.10" y1="297.00" x2="388.30" y2="297.00" stroke="#2a2a2a" stroke-width="1.0" />
<text x="383.90" y="299.70" font-size="7.4" font-weight="bold" text-anchor="end" fill="#222" >0</text>
<line x1="386.30" y1="288.85" x2="388.30" y2="288.85" stroke="#2a2a2a" stroke-width="1.0" />
<line x1="385.10" y1="280.70" x2="388.30" y2="280.70" stroke="#2a2a2a" stroke-width="1.0" />
<text x="383.90" y="283.40" font-size="7.4" font-weight="bold" text-anchor="end" fill="#222" >20</text>
<line x1="386.30" y1="272.55" x2="388.30" y2="272.55" stroke="#2a2a2a" stroke-width="1.0" />
<line x1="385.10" y1="264.40" x2="388.30" y2="264.40" stroke="#2a2a2a" stroke-width="1.0" />
<text x="383.90" y="267.10" font-size="7.4" font-weight="bold" text-anchor="end" fill="#222" >40</text>
<line x1="386.30" y1="256.25" x2="388.30" y2="256.25" stroke="#2a2a2a" stroke-width="1.0" />
<line x1="385.10" y1="248.10" x2="388.30" y2="248.10" stroke="#2a2a2a" stroke-width="1.0" />
<text x="383.90" y="250.80" font-size="7.4" font-weight="bold" text-anchor="end" fill="#222" >60</text>
<line x1="386.30" y1="239.95" x2="388.30" y2="239.95" stroke="#2a2a2a" stroke-width="1.0" />
<line x1="385.10" y1="231.80" x2="388.30" y2="231.80" stroke="#2a2a2a" stroke-width="1.0" />
<text x="383.90" y="234.50" font-size="7.4" font-weight="bold" text-anchor="end" fill="#222" >80</text>
<line x1="386.30" y1="223.65" x2="388.30" y2="223.65" stroke="#2a2a2a" stroke-width="1.0" />
<line x1="385.10" y1="215.50" x2="388.30" y2="215.50" stroke="#2a2a2a" stroke-width="1.0" />
<text x="383.90" y="218.20" font-size="7.4" font-weight="bold" text-anchor="end" fill="#222" >100</text>
<line x1="387.60" y1="313.30" x2="536.50" y2="313.30" stroke="#2a2a2a" stroke-width="1.4" />
<line x1="390.90" y1="256.25" x2="536" y2="256.25" stroke="#333" stroke-width="1.1" stroke-dasharray="1.1,1.8"/>
<line x1="396.50" y1="313.30" x2="396.50" y2="317.70" stroke="#2a2a2a" stroke-width="1.2" />
<rect x="391.30" y="268.39" width="4.50" height="28.61" fill="#ff3b3b" />
<rect x="397.10" y="242.23" width="4.60" height="54.77" fill="#2e8fd8" />
<line x1="399.40" y1="236.28" x2="399.40" y2="242.23" stroke="#2e8fd8" stroke-width="0.8" />
<line x1="398.30" y1="236.28" x2="400.50" y2="236.28" stroke="#2e8fd8" stroke-width="0.8" />
<text transform="translate(398.70,323.50) rotate(-45)" text-anchor="end" font-size="7.8" font-weight="bold" fill="#222">A14</text>
<line x1="412.89" y1="313.30" x2="412.89" y2="317.70" stroke="#2a2a2a" stroke-width="1.2" />
<rect x="407.69" y="296.02" width="4.50" height="0.98" fill="#ff3b3b" />
<line x1="409.94" y1="293.25" x2="409.94" y2="296.02" stroke="#ff3b3b" stroke-width="0.8" />
<line x1="408.89" y1="293.25" x2="410.99" y2="293.25" stroke="#ff3b3b" stroke-width="0.8" />
<rect x="413.49" y="280.21" width="4.60" height="16.79" fill="#2e8fd8" />
<text transform="translate(415.09,323.50) rotate(-45)" text-anchor="end" font-size="7.8" font-weight="bold" fill="#222">A31</text>
<line x1="429.28" y1="313.30" x2="429.28" y2="317.70" stroke="#2a2a2a" stroke-width="1.2" />
<rect x="424.08" y="294.56" width="4.50" height="2.44" fill="#ff3b3b" />
<line x1="426.33" y1="291.70" x2="426.33" y2="294.56" stroke="#ff3b3b" stroke-width="0.8" />
<line x1="425.28" y1="291.70" x2="427.38" y2="291.70" stroke="#ff3b3b" stroke-width="0.8" />
<rect x="429.88" y="274.91" width="4.60" height="22.09" fill="#2e8fd8" />
<line x1="432.18" y1="271.98" x2="432.18" y2="274.91" stroke="#2e8fd8" stroke-width="0.8" />
<line x1="431.08" y1="271.98" x2="433.28" y2="271.98" stroke="#2e8fd8" stroke-width="0.8" />
<text transform="translate(431.48,323.50) rotate(-45)" text-anchor="end" font-size="7.8" font-weight="bold" fill="#222">B13</text>
<line x1="445.67" y1="313.30" x2="445.67" y2="317.70" stroke="#2a2a2a" stroke-width="1.2" />
<rect x="440.47" y="296.02" width="4.50" height="0.98" fill="#ff3b3b" />
<line x1="442.72" y1="292.52" x2="442.72" y2="296.02" stroke="#ff3b3b" stroke-width="0.8" />
<line x1="441.67" y1="292.52" x2="443.77" y2="292.52" stroke="#ff3b3b" stroke-width="0.8" />
<rect x="446.27" y="280.78" width="4.60" height="16.22" fill="#2e8fd8" />
<text transform="translate(447.87,323.50) rotate(-45)" text-anchor="end" font-size="7.8" font-weight="bold" fill="#222">B18</text>
<line x1="462.06" y1="313.30" x2="462.06" y2="317.70" stroke="#2a2a2a" stroke-width="1.2" />
<rect x="456.86" y="297.00" width="4.50" height="2.61" fill="#ff3b3b" />
<rect x="462.66" y="292.11" width="4.60" height="4.89" fill="#2e8fd8" />
<line x1="464.96" y1="288.52" x2="464.96" y2="292.11" stroke="#2e8fd8" stroke-width="0.8" />
<line x1="463.86" y1="288.52" x2="466.06" y2="288.52" stroke="#2e8fd8" stroke-width="0.8" />
<text transform="translate(464.26,323.50) rotate(-45)" text-anchor="end" font-size="7.8" font-weight="bold" fill="#222">B20</text>
<line x1="478.45" y1="313.30" x2="478.45" y2="317.70" stroke="#2a2a2a" stroke-width="1.2" />
<rect x="473.25" y="297.00" width="4.50" height="2.44" fill="#ff3b3b" />
<rect x="479.05" y="291.62" width="4.60" height="5.38" fill="#2e8fd8" />
<line x1="481.35" y1="289.34" x2="481.35" y2="291.62" stroke="#2e8fd8" stroke-width="0.8" />
<line x1="480.25" y1="289.34" x2="482.45" y2="289.34" stroke="#2e8fd8" stroke-width="0.8" />
<text transform="translate(480.65,323.50) rotate(-45)" text-anchor="end" font-size="7.8" font-weight="bold" fill="#222">B27</text>
<line x1="494.84" y1="313.30" x2="494.84" y2="317.70" stroke="#2a2a2a" stroke-width="1.2" />
<rect x="489.64" y="297.00" width="4.50" height="1.47" fill="#ff3b3b" />
<rect x="495.44" y="282.00" width="4.60" height="15.00" fill="#2e8fd8" />
<line x1="497.74" y1="280.13" x2="497.74" y2="282.00" stroke="#2e8fd8" stroke-width="0.8" />
<line x1="496.64" y1="280.13" x2="498.84" y2="280.13" stroke="#2e8fd8" stroke-width="0.8" />
<text transform="translate(497.04,323.50) rotate(-45)" text-anchor="end" font-size="7.8" font-weight="bold" fill="#222">C2</text>
<line x1="511.23" y1="313.30" x2="511.23" y2="317.70" stroke="#2a2a2a" stroke-width="1.2" />
<rect x="506.03" y="295.78" width="4.50" height="1.22" fill="#ff3b3b" />
<rect x="511.83" y="282.00" width="4.60" height="15.00" fill="#2e8fd8" />
<line x1="514.13" y1="279.72" x2="514.13" y2="282.00" stroke="#2e8fd8" stroke-width="0.8" />
<line x1="513.03" y1="279.72" x2="515.23" y2="279.72" stroke="#2e8fd8" stroke-width="0.8" />
<text transform="translate(513.43,323.50) rotate(-45)" text-anchor="end" font-size="7.8" font-weight="bold" fill="#222">C8</text>
<line x1="527.62" y1="313.30" x2="527.62" y2="317.70" stroke="#2a2a2a" stroke-width="1.2" />
<rect x="522.42" y="271.33" width="4.50" height="25.67" fill="#ff3b3b" />
<line x1="524.67" y1="269.62" x2="524.67" y2="271.33" stroke="#ff3b3b" stroke-width="0.8" />
<line x1="523.62" y1="269.62" x2="525.72" y2="269.62" stroke="#ff3b3b" stroke-width="0.8" />
<rect x="528.22" y="238.24" width="4.60" height="58.76" fill="#2e8fd8" />
<line x1="530.52" y1="232.21" x2="530.52" y2="238.24" stroke="#2e8fd8" stroke-width="0.8" />
<line x1="529.42" y1="232.21" x2="531.62" y2="232.21" stroke="#2e8fd8" stroke-width="0.8" />
<text transform="translate(529.82,323.50) rotate(-45)" text-anchor="end" font-size="7.8" font-weight="bold" fill="#222">D11</text>
<line x1="388.30" y1="297.00" x2="536.50" y2="297.00" stroke="#111" stroke-width="1.3" />
<text x="366.8" y="261.2" transform="rotate(-90 366.8 261.2)" text-anchor="middle" dy="2.6" font-size="7.1" font-weight="bold" fill="#222">Blocking rate (%)</text>
<rect x="481.00" y="215.40" width="10.50" height="3.60" fill="#ff3b3b" />
<rect x="481.00" y="228.00" width="10.50" height="3.60" fill="#2e8fd8" />
<text x="497.50" y="219.40" font-size="6.8" font-weight="normal" text-anchor="start" fill="#222" >0.5 &#956;g/mL</text>
<text x="497.50" y="232.00" font-size="6.8" font-weight="normal" text-anchor="start" fill="#222" >5 &#956;g/mL</text>
</svg></body></html>
